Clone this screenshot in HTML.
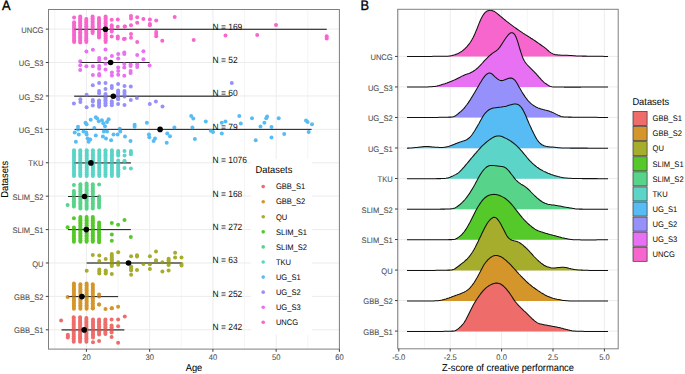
<!DOCTYPE html><html><head><meta charset="utf-8"><style>html,body{margin:0;padding:0;background:#fff;width:685px;height:374px;overflow:hidden}svg{display:block}text{font-family:"Liberation Sans",sans-serif;text-rendering:geometricPrecision}</style></head><body>
<svg width="685" height="374" viewBox="0 0 685 374">
<rect width="685" height="374" fill="#fff"/>
<g stroke="#EBEBEB" fill="none">
<line x1="54.78" y1="9.5" x2="54.78" y2="349.1" stroke-width="0.5"/>
<line x1="118.03" y1="9.5" x2="118.03" y2="349.1" stroke-width="0.5"/>
<line x1="181.28" y1="9.5" x2="181.28" y2="349.1" stroke-width="0.5"/>
<line x1="244.53" y1="9.5" x2="244.53" y2="349.1" stroke-width="0.5"/>
<line x1="307.77" y1="9.5" x2="307.77" y2="349.1" stroke-width="0.5"/>
<line x1="86.40" y1="9.5" x2="86.40" y2="349.1" stroke-width="0.95"/>
<line x1="149.65" y1="9.5" x2="149.65" y2="349.1" stroke-width="0.95"/>
<line x1="212.90" y1="9.5" x2="212.90" y2="349.1" stroke-width="0.95"/>
<line x1="276.15" y1="9.5" x2="276.15" y2="349.1" stroke-width="0.95"/>
<line x1="339.40" y1="9.5" x2="339.40" y2="349.1" stroke-width="0.95"/>
<line x1="48.5" y1="329.80" x2="339.4" y2="329.80" stroke-width="0.95"/>
<line x1="48.5" y1="296.39" x2="339.4" y2="296.39" stroke-width="0.95"/>
<line x1="48.5" y1="262.98" x2="339.4" y2="262.98" stroke-width="0.95"/>
<line x1="48.5" y1="229.57" x2="339.4" y2="229.57" stroke-width="0.95"/>
<line x1="48.5" y1="196.16" x2="339.4" y2="196.16" stroke-width="0.95"/>
<line x1="48.5" y1="162.75" x2="339.4" y2="162.75" stroke-width="0.95"/>
<line x1="48.5" y1="129.34" x2="339.4" y2="129.34" stroke-width="0.95"/>
<line x1="48.5" y1="95.93" x2="339.4" y2="95.93" stroke-width="0.95"/>
<line x1="48.5" y1="62.52" x2="339.4" y2="62.52" stroke-width="0.95"/>
<line x1="48.5" y1="29.11" x2="339.4" y2="29.11" stroke-width="0.95"/>
</g>
<g stroke="#EBEBEB" fill="none">
<line x1="424.50" y1="9.3" x2="424.50" y2="348.8" stroke-width="0.5"/>
<line x1="475.90" y1="9.3" x2="475.90" y2="348.8" stroke-width="0.5"/>
<line x1="527.30" y1="9.3" x2="527.30" y2="348.8" stroke-width="0.5"/>
<line x1="578.70" y1="9.3" x2="578.70" y2="348.8" stroke-width="0.5"/>
<line x1="398.80" y1="9.3" x2="398.80" y2="348.8" stroke-width="0.95"/>
<line x1="450.20" y1="9.3" x2="450.20" y2="348.8" stroke-width="0.95"/>
<line x1="501.60" y1="9.3" x2="501.60" y2="348.8" stroke-width="0.95"/>
<line x1="553.00" y1="9.3" x2="553.00" y2="348.8" stroke-width="0.95"/>
<line x1="604.40" y1="9.3" x2="604.40" y2="348.8" stroke-width="0.95"/>
<line x1="397.7" y1="331.10" x2="618.2" y2="331.10" stroke-width="0.95"/>
<line x1="397.7" y1="300.58" x2="618.2" y2="300.58" stroke-width="0.95"/>
<line x1="397.7" y1="270.06" x2="618.2" y2="270.06" stroke-width="0.95"/>
<line x1="397.7" y1="239.54" x2="618.2" y2="239.54" stroke-width="0.95"/>
<line x1="397.7" y1="209.02" x2="618.2" y2="209.02" stroke-width="0.95"/>
<line x1="397.7" y1="178.50" x2="618.2" y2="178.50" stroke-width="0.95"/>
<line x1="397.7" y1="147.98" x2="618.2" y2="147.98" stroke-width="0.95"/>
<line x1="397.7" y1="117.46" x2="618.2" y2="117.46" stroke-width="0.95"/>
<line x1="397.7" y1="86.94" x2="618.2" y2="86.94" stroke-width="0.95"/>
<line x1="397.7" y1="56.42" x2="618.2" y2="56.42" stroke-width="0.95"/>
</g>
<path d="M407.0,56.4 408.0,56.4 409.0,56.4 410.0,56.4 411.0,56.4 412.0,56.4 413.0,56.4 414.0,56.4 415.0,56.4 416.0,56.4 417.0,56.4 418.0,56.4 419.0,56.4 420.0,56.4 421.0,56.4 422.0,56.4 423.0,56.4 424.0,56.4 425.0,56.4 426.0,56.4 427.0,56.4 428.0,56.4 429.0,56.4 430.0,56.4 431.0,56.4 432.0,56.4 433.0,56.3 434.0,56.3 435.0,56.3 436.0,56.3 437.0,56.3 438.0,56.3 439.0,56.3 440.0,56.3 441.0,56.3 442.0,56.3 443.0,56.3 444.0,56.3 445.0,56.3 446.0,56.3 447.0,56.2 448.0,56.2 449.0,56.1 450.0,56.0 451.0,55.8 452.0,55.6 453.0,55.3 454.0,55.0 455.0,54.7 456.0,54.3 457.0,53.9 458.0,53.5 459.0,53.0 460.0,52.4 461.0,51.8 462.0,51.1 463.0,50.3 464.0,49.5 465.0,48.6 466.0,47.6 467.0,46.6 468.0,45.4 469.0,44.2 470.0,42.8 471.0,41.3 472.0,39.6 473.0,37.8 474.0,35.7 475.0,33.5 476.0,31.1 477.0,28.7 478.0,26.1 479.0,23.6 480.0,21.2 481.0,18.9 482.0,17.0 483.0,15.3 484.0,13.9 485.0,12.7 486.0,11.8 487.0,11.1 488.0,10.7 489.0,10.4 490.0,10.3 491.0,10.3 492.0,10.5 493.0,10.9 494.0,11.3 495.0,11.9 496.0,12.6 497.0,13.4 498.0,14.2 499.0,15.0 500.0,15.8 501.0,16.7 502.0,17.5 503.0,18.3 504.0,19.2 505.0,20.0 506.0,20.8 507.0,21.6 508.0,22.3 509.0,23.1 510.0,23.9 511.0,24.6 512.0,25.4 513.0,26.1 514.0,26.9 515.0,27.6 516.0,28.3 517.0,29.0 518.0,29.7 519.0,30.4 520.0,31.1 521.0,31.8 522.0,32.4 523.0,33.1 524.0,33.7 525.0,34.4 526.0,35.0 527.0,35.6 528.0,36.3 529.0,36.9 530.0,37.5 531.0,38.2 532.0,38.8 533.0,39.5 534.0,40.1 535.0,40.8 536.0,41.5 537.0,42.2 538.0,42.9 539.0,43.6 540.0,44.3 541.0,45.0 542.0,45.7 543.0,46.4 544.0,47.1 545.0,47.9 546.0,48.7 547.0,49.6 548.0,50.5 549.0,51.4 550.0,52.2 551.0,52.9 552.0,53.4 553.0,53.9 554.0,54.2 555.0,54.5 556.0,54.7 557.0,54.8 558.0,54.9 559.0,55.0 560.0,55.1 561.0,55.2 562.0,55.2 563.0,55.2 564.0,55.2 565.0,55.2 566.0,55.2 567.0,55.3 568.0,55.3 569.0,55.4 570.0,55.4 571.0,55.5 572.0,55.6 573.0,55.7 574.0,55.8 575.0,55.8 576.0,55.9 577.0,55.9 578.0,56.0 579.0,56.0 580.0,56.0 581.0,56.0 582.0,56.1 583.0,56.1 584.0,56.1 585.0,56.1 586.0,56.1 587.0,56.2 588.0,56.2 589.0,56.2 590.0,56.2 591.0,56.2 592.0,56.2 593.0,56.2 594.0,56.2 595.0,56.3 596.0,56.3 597.0,56.3 598.0,56.3 599.0,56.3 600.0,56.3 601.0,56.3 602.0,56.3 603.0,56.3 604.0,56.4 605.0,56.4 606.0,56.4 607.0,56.4 608.0,56.4 L608.00,56.40 L407.00,56.40 Z" fill="#F766CC" stroke="none"/>
<path d="M407.0,56.4 408.0,56.4 409.0,56.4 410.0,56.4 411.0,56.4 412.0,56.4 413.0,56.4 414.0,56.4 415.0,56.4 416.0,56.4 417.0,56.4 418.0,56.4 419.0,56.4 420.0,56.4 421.0,56.4 422.0,56.4 423.0,56.4 424.0,56.4 425.0,56.4 426.0,56.4 427.0,56.4 428.0,56.4 429.0,56.4 430.0,56.4 431.0,56.4 432.0,56.4 433.0,56.3 434.0,56.3 435.0,56.3 436.0,56.3 437.0,56.3 438.0,56.3 439.0,56.3 440.0,56.3 441.0,56.3 442.0,56.3 443.0,56.3 444.0,56.3 445.0,56.3 446.0,56.3 447.0,56.2 448.0,56.2 449.0,56.1 450.0,56.0 451.0,55.8 452.0,55.6 453.0,55.3 454.0,55.0 455.0,54.7 456.0,54.3 457.0,53.9 458.0,53.5 459.0,53.0 460.0,52.4 461.0,51.8 462.0,51.1 463.0,50.3 464.0,49.5 465.0,48.6 466.0,47.6 467.0,46.6 468.0,45.4 469.0,44.2 470.0,42.8 471.0,41.3 472.0,39.6 473.0,37.8 474.0,35.7 475.0,33.5 476.0,31.1 477.0,28.7 478.0,26.1 479.0,23.6 480.0,21.2 481.0,18.9 482.0,17.0 483.0,15.3 484.0,13.9 485.0,12.7 486.0,11.8 487.0,11.1 488.0,10.7 489.0,10.4 490.0,10.3 491.0,10.3 492.0,10.5 493.0,10.9 494.0,11.3 495.0,11.9 496.0,12.6 497.0,13.4 498.0,14.2 499.0,15.0 500.0,15.8 501.0,16.7 502.0,17.5 503.0,18.3 504.0,19.2 505.0,20.0 506.0,20.8 507.0,21.6 508.0,22.3 509.0,23.1 510.0,23.9 511.0,24.6 512.0,25.4 513.0,26.1 514.0,26.9 515.0,27.6 516.0,28.3 517.0,29.0 518.0,29.7 519.0,30.4 520.0,31.1 521.0,31.8 522.0,32.4 523.0,33.1 524.0,33.7 525.0,34.4 526.0,35.0 527.0,35.6 528.0,36.3 529.0,36.9 530.0,37.5 531.0,38.2 532.0,38.8 533.0,39.5 534.0,40.1 535.0,40.8 536.0,41.5 537.0,42.2 538.0,42.9 539.0,43.6 540.0,44.3 541.0,45.0 542.0,45.7 543.0,46.4 544.0,47.1 545.0,47.9 546.0,48.7 547.0,49.6 548.0,50.5 549.0,51.4 550.0,52.2 551.0,52.9 552.0,53.4 553.0,53.9 554.0,54.2 555.0,54.5 556.0,54.7 557.0,54.8 558.0,54.9 559.0,55.0 560.0,55.1 561.0,55.2 562.0,55.2 563.0,55.2 564.0,55.2 565.0,55.2 566.0,55.2 567.0,55.3 568.0,55.3 569.0,55.4 570.0,55.4 571.0,55.5 572.0,55.6 573.0,55.7 574.0,55.8 575.0,55.8 576.0,55.9 577.0,55.9 578.0,56.0 579.0,56.0 580.0,56.0 581.0,56.0 582.0,56.1 583.0,56.1 584.0,56.1 585.0,56.1 586.0,56.1 587.0,56.2 588.0,56.2 589.0,56.2 590.0,56.2 591.0,56.2 592.0,56.2 593.0,56.2 594.0,56.2 595.0,56.3 596.0,56.3 597.0,56.3 598.0,56.3 599.0,56.3 600.0,56.3 601.0,56.3 602.0,56.3 603.0,56.3 604.0,56.4 605.0,56.4 606.0,56.4 607.0,56.4 608.0,56.4" fill="none" stroke="#111" stroke-width="1.05" stroke-linejoin="round"/>
<path d="M407.0,87.0 408.0,87.0 409.0,87.0 410.0,87.0 411.0,87.0 412.0,87.0 413.0,87.0 414.0,87.0 415.0,87.0 416.0,87.0 417.0,87.0 418.0,87.0 419.0,87.0 420.0,86.9 421.0,86.9 422.0,86.9 423.0,86.9 424.0,86.9 425.0,86.9 426.0,86.9 427.0,86.9 428.0,86.9 429.0,86.8 430.0,86.8 431.0,86.8 432.0,86.7 433.0,86.6 434.0,86.5 435.0,86.4 436.0,86.2 437.0,86.0 438.0,85.7 439.0,85.5 440.0,85.2 441.0,84.9 442.0,84.6 443.0,84.3 444.0,84.0 445.0,83.7 446.0,83.3 447.0,83.0 448.0,82.6 449.0,82.2 450.0,81.8 451.0,81.4 452.0,81.0 453.0,80.6 454.0,80.1 455.0,79.7 456.0,79.2 457.0,78.7 458.0,78.2 459.0,77.7 460.0,77.2 461.0,76.6 462.0,76.1 463.0,75.7 464.0,75.2 465.0,74.8 466.0,74.4 467.0,74.1 468.0,73.7 469.0,73.4 470.0,73.0 471.0,72.5 472.0,72.0 473.0,71.5 474.0,70.8 475.0,70.1 476.0,69.4 477.0,68.5 478.0,67.7 479.0,66.7 480.0,65.7 481.0,64.6 482.0,63.5 483.0,62.4 484.0,61.2 485.0,60.1 486.0,59.1 487.0,58.1 488.0,57.1 489.0,56.2 490.0,55.3 491.0,54.5 492.0,53.7 493.0,52.9 494.0,52.3 495.0,51.6 496.0,51.0 497.0,50.2 498.0,49.3 499.0,48.2 500.0,46.9 501.0,45.4 502.0,43.9 503.0,42.3 504.0,40.8 505.0,39.3 506.0,37.8 507.0,36.5 508.0,35.2 509.0,34.1 510.0,33.3 511.0,32.8 512.0,32.7 513.0,33.0 514.0,33.7 515.0,35.0 516.0,37.0 517.0,39.6 518.0,42.7 519.0,46.1 520.0,49.5 521.0,52.7 522.0,55.6 523.0,58.2 524.0,60.3 525.0,62.0 526.0,63.3 527.0,64.5 528.0,65.6 529.0,66.6 530.0,67.6 531.0,68.6 532.0,69.6 533.0,70.6 534.0,71.6 535.0,72.6 536.0,73.7 537.0,74.8 538.0,75.9 539.0,77.1 540.0,78.2 541.0,79.4 542.0,80.4 543.0,81.4 544.0,82.3 545.0,83.1 546.0,83.8 547.0,84.5 548.0,85.1 549.0,85.7 550.0,86.2 551.0,86.6 552.0,86.8 553.0,86.9 554.0,87.0 555.0,87.0 556.0,87.0 557.0,87.0 558.0,87.0 559.0,87.0 560.0,87.0 561.0,87.0 562.0,87.0 563.0,87.0 564.0,87.1 565.0,87.1 566.0,87.1 567.0,87.1 568.0,87.1 569.0,87.1 570.0,87.1 571.0,87.1 572.0,87.1 573.0,87.1 574.0,87.1 575.0,87.1 576.0,87.1 577.0,87.1 578.0,87.1 579.0,87.1 580.0,87.1 581.0,87.1 582.0,87.0 583.0,87.0 584.0,87.0 585.0,87.0 586.0,87.0 587.0,87.0 588.0,87.0 589.0,87.0 590.0,87.0 591.0,87.0 592.0,87.0 593.0,87.0 594.0,87.0 595.0,87.0 596.0,87.0 597.0,87.0 598.0,87.0 599.0,87.0 600.0,87.0 601.0,87.0 602.0,87.0 603.0,87.0 604.0,87.0 605.0,87.0 606.0,87.0 607.0,87.0 608.0,87.0 L608.00,87.00 L407.00,87.00 Z" fill="#E870F2" stroke="none"/>
<path d="M407.0,87.0 408.0,87.0 409.0,87.0 410.0,87.0 411.0,87.0 412.0,87.0 413.0,87.0 414.0,87.0 415.0,87.0 416.0,87.0 417.0,87.0 418.0,87.0 419.0,87.0 420.0,86.9 421.0,86.9 422.0,86.9 423.0,86.9 424.0,86.9 425.0,86.9 426.0,86.9 427.0,86.9 428.0,86.9 429.0,86.8 430.0,86.8 431.0,86.8 432.0,86.7 433.0,86.6 434.0,86.5 435.0,86.4 436.0,86.2 437.0,86.0 438.0,85.7 439.0,85.5 440.0,85.2 441.0,84.9 442.0,84.6 443.0,84.3 444.0,84.0 445.0,83.7 446.0,83.3 447.0,83.0 448.0,82.6 449.0,82.2 450.0,81.8 451.0,81.4 452.0,81.0 453.0,80.6 454.0,80.1 455.0,79.7 456.0,79.2 457.0,78.7 458.0,78.2 459.0,77.7 460.0,77.2 461.0,76.6 462.0,76.1 463.0,75.7 464.0,75.2 465.0,74.8 466.0,74.4 467.0,74.1 468.0,73.7 469.0,73.4 470.0,73.0 471.0,72.5 472.0,72.0 473.0,71.5 474.0,70.8 475.0,70.1 476.0,69.4 477.0,68.5 478.0,67.7 479.0,66.7 480.0,65.7 481.0,64.6 482.0,63.5 483.0,62.4 484.0,61.2 485.0,60.1 486.0,59.1 487.0,58.1 488.0,57.1 489.0,56.2 490.0,55.3 491.0,54.5 492.0,53.7 493.0,52.9 494.0,52.3 495.0,51.6 496.0,51.0 497.0,50.2 498.0,49.3 499.0,48.2 500.0,46.9 501.0,45.4 502.0,43.9 503.0,42.3 504.0,40.8 505.0,39.3 506.0,37.8 507.0,36.5 508.0,35.2 509.0,34.1 510.0,33.3 511.0,32.8 512.0,32.7 513.0,33.0 514.0,33.7 515.0,35.0 516.0,37.0 517.0,39.6 518.0,42.7 519.0,46.1 520.0,49.5 521.0,52.7 522.0,55.6 523.0,58.2 524.0,60.3 525.0,62.0 526.0,63.3 527.0,64.5 528.0,65.6 529.0,66.6 530.0,67.6 531.0,68.6 532.0,69.6 533.0,70.6 534.0,71.6 535.0,72.6 536.0,73.7 537.0,74.8 538.0,75.9 539.0,77.1 540.0,78.2 541.0,79.4 542.0,80.4 543.0,81.4 544.0,82.3 545.0,83.1 546.0,83.8 547.0,84.5 548.0,85.1 549.0,85.7 550.0,86.2 551.0,86.6 552.0,86.8 553.0,86.9 554.0,87.0 555.0,87.0 556.0,87.0 557.0,87.0 558.0,87.0 559.0,87.0 560.0,87.0 561.0,87.0 562.0,87.0 563.0,87.0 564.0,87.1 565.0,87.1 566.0,87.1 567.0,87.1 568.0,87.1 569.0,87.1 570.0,87.1 571.0,87.1 572.0,87.1 573.0,87.1 574.0,87.1 575.0,87.1 576.0,87.1 577.0,87.1 578.0,87.1 579.0,87.1 580.0,87.1 581.0,87.1 582.0,87.0 583.0,87.0 584.0,87.0 585.0,87.0 586.0,87.0 587.0,87.0 588.0,87.0 589.0,87.0 590.0,87.0 591.0,87.0 592.0,87.0 593.0,87.0 594.0,87.0 595.0,87.0 596.0,87.0 597.0,87.0 598.0,87.0 599.0,87.0 600.0,87.0 601.0,87.0 602.0,87.0 603.0,87.0 604.0,87.0 605.0,87.0 606.0,87.0 607.0,87.0 608.0,87.0" fill="none" stroke="#111" stroke-width="1.05" stroke-linejoin="round"/>
<path d="M407.0,117.4 408.0,117.4 409.0,117.4 410.0,117.4 411.0,117.4 412.0,117.4 413.0,117.4 414.0,117.4 415.0,117.4 416.0,117.4 417.0,117.4 418.0,117.4 419.0,117.4 420.0,117.4 421.0,117.4 422.0,117.4 423.0,117.4 424.0,117.4 425.0,117.4 426.0,117.4 427.0,117.4 428.0,117.4 429.0,117.4 430.0,117.4 431.0,117.4 432.0,117.4 433.0,117.4 434.0,117.4 435.0,117.4 436.0,117.4 437.0,117.4 438.0,117.4 439.0,117.3 440.0,117.3 441.0,117.3 442.0,117.3 443.0,117.3 444.0,117.3 445.0,117.3 446.0,117.2 447.0,117.2 448.0,117.2 449.0,117.1 450.0,117.1 451.0,117.1 452.0,117.0 453.0,116.8 454.0,116.5 455.0,116.0 456.0,115.4 457.0,114.6 458.0,113.8 459.0,113.0 460.0,112.2 461.0,111.4 462.0,110.4 463.0,109.4 464.0,108.3 465.0,107.1 466.0,105.8 467.0,104.5 468.0,103.1 469.0,101.6 470.0,100.1 471.0,98.5 472.0,96.9 473.0,95.2 474.0,93.6 475.0,91.9 476.0,90.2 477.0,88.5 478.0,86.8 479.0,85.1 480.0,83.3 481.0,81.7 482.0,80.0 483.0,78.5 484.0,77.1 485.0,75.9 486.0,74.9 487.0,74.0 488.0,73.4 489.0,73.1 490.0,73.0 491.0,73.4 492.0,74.0 493.0,74.9 494.0,75.8 495.0,76.8 496.0,77.7 497.0,78.6 498.0,79.3 499.0,79.9 500.0,80.4 501.0,80.6 502.0,80.6 503.0,80.4 504.0,80.1 505.0,79.7 506.0,79.3 507.0,78.9 508.0,78.5 509.0,78.3 510.0,78.1 511.0,78.1 512.0,78.3 513.0,78.7 514.0,79.4 515.0,80.4 516.0,81.7 517.0,83.3 518.0,85.1 519.0,86.9 520.0,88.6 521.0,90.3 522.0,92.0 523.0,93.6 524.0,95.1 525.0,96.6 526.0,98.0 527.0,99.4 528.0,100.6 529.0,101.7 530.0,102.7 531.0,103.6 532.0,104.4 533.0,105.1 534.0,105.8 535.0,106.4 536.0,107.0 537.0,107.4 538.0,107.9 539.0,108.2 540.0,108.6 541.0,108.9 542.0,109.2 543.0,109.5 544.0,109.7 545.0,110.0 546.0,110.2 547.0,110.4 548.0,110.7 549.0,111.0 550.0,111.4 551.0,111.7 552.0,112.2 553.0,112.6 554.0,113.1 555.0,113.6 556.0,114.1 557.0,114.6 558.0,115.1 559.0,115.6 560.0,116.0 561.0,116.4 562.0,116.7 563.0,116.8 564.0,116.9 565.0,117.0 566.0,117.0 567.0,117.0 568.0,117.1 569.0,117.1 570.0,117.1 571.0,117.1 572.0,117.2 573.0,117.2 574.0,117.2 575.0,117.2 576.0,117.2 577.0,117.2 578.0,117.2 579.0,117.2 580.0,117.3 581.0,117.3 582.0,117.3 583.0,117.3 584.0,117.3 585.0,117.3 586.0,117.3 587.0,117.3 588.0,117.3 589.0,117.3 590.0,117.3 591.0,117.3 592.0,117.3 593.0,117.3 594.0,117.3 595.0,117.3 596.0,117.3 597.0,117.3 598.0,117.4 599.0,117.4 600.0,117.4 601.0,117.4 602.0,117.4 603.0,117.4 604.0,117.4 605.0,117.4 606.0,117.4 607.0,117.4 608.0,117.4 L608.00,117.40 L407.00,117.40 Z" fill="#9690FA" stroke="none"/>
<path d="M407.0,117.4 408.0,117.4 409.0,117.4 410.0,117.4 411.0,117.4 412.0,117.4 413.0,117.4 414.0,117.4 415.0,117.4 416.0,117.4 417.0,117.4 418.0,117.4 419.0,117.4 420.0,117.4 421.0,117.4 422.0,117.4 423.0,117.4 424.0,117.4 425.0,117.4 426.0,117.4 427.0,117.4 428.0,117.4 429.0,117.4 430.0,117.4 431.0,117.4 432.0,117.4 433.0,117.4 434.0,117.4 435.0,117.4 436.0,117.4 437.0,117.4 438.0,117.4 439.0,117.3 440.0,117.3 441.0,117.3 442.0,117.3 443.0,117.3 444.0,117.3 445.0,117.3 446.0,117.2 447.0,117.2 448.0,117.2 449.0,117.1 450.0,117.1 451.0,117.1 452.0,117.0 453.0,116.8 454.0,116.5 455.0,116.0 456.0,115.4 457.0,114.6 458.0,113.8 459.0,113.0 460.0,112.2 461.0,111.4 462.0,110.4 463.0,109.4 464.0,108.3 465.0,107.1 466.0,105.8 467.0,104.5 468.0,103.1 469.0,101.6 470.0,100.1 471.0,98.5 472.0,96.9 473.0,95.2 474.0,93.6 475.0,91.9 476.0,90.2 477.0,88.5 478.0,86.8 479.0,85.1 480.0,83.3 481.0,81.7 482.0,80.0 483.0,78.5 484.0,77.1 485.0,75.9 486.0,74.9 487.0,74.0 488.0,73.4 489.0,73.1 490.0,73.0 491.0,73.4 492.0,74.0 493.0,74.9 494.0,75.8 495.0,76.8 496.0,77.7 497.0,78.6 498.0,79.3 499.0,79.9 500.0,80.4 501.0,80.6 502.0,80.6 503.0,80.4 504.0,80.1 505.0,79.7 506.0,79.3 507.0,78.9 508.0,78.5 509.0,78.3 510.0,78.1 511.0,78.1 512.0,78.3 513.0,78.7 514.0,79.4 515.0,80.4 516.0,81.7 517.0,83.3 518.0,85.1 519.0,86.9 520.0,88.6 521.0,90.3 522.0,92.0 523.0,93.6 524.0,95.1 525.0,96.6 526.0,98.0 527.0,99.4 528.0,100.6 529.0,101.7 530.0,102.7 531.0,103.6 532.0,104.4 533.0,105.1 534.0,105.8 535.0,106.4 536.0,107.0 537.0,107.4 538.0,107.9 539.0,108.2 540.0,108.6 541.0,108.9 542.0,109.2 543.0,109.5 544.0,109.7 545.0,110.0 546.0,110.2 547.0,110.4 548.0,110.7 549.0,111.0 550.0,111.4 551.0,111.7 552.0,112.2 553.0,112.6 554.0,113.1 555.0,113.6 556.0,114.1 557.0,114.6 558.0,115.1 559.0,115.6 560.0,116.0 561.0,116.4 562.0,116.7 563.0,116.8 564.0,116.9 565.0,117.0 566.0,117.0 567.0,117.0 568.0,117.1 569.0,117.1 570.0,117.1 571.0,117.1 572.0,117.2 573.0,117.2 574.0,117.2 575.0,117.2 576.0,117.2 577.0,117.2 578.0,117.2 579.0,117.2 580.0,117.3 581.0,117.3 582.0,117.3 583.0,117.3 584.0,117.3 585.0,117.3 586.0,117.3 587.0,117.3 588.0,117.3 589.0,117.3 590.0,117.3 591.0,117.3 592.0,117.3 593.0,117.3 594.0,117.3 595.0,117.3 596.0,117.3 597.0,117.3 598.0,117.4 599.0,117.4 600.0,117.4 601.0,117.4 602.0,117.4 603.0,117.4 604.0,117.4 605.0,117.4 606.0,117.4 607.0,117.4 608.0,117.4" fill="none" stroke="#111" stroke-width="1.05" stroke-linejoin="round"/>
<path d="M407.0,148.2 408.0,148.1 409.0,148.1 410.0,148.0 411.0,148.0 412.0,147.9 413.0,147.8 414.0,147.7 415.0,147.6 416.0,147.5 417.0,147.4 418.0,147.3 419.0,147.2 420.0,147.0 421.0,146.9 422.0,146.8 423.0,146.7 424.0,146.6 425.0,146.5 426.0,146.5 427.0,146.5 428.0,146.5 429.0,146.6 430.0,146.7 431.0,146.8 432.0,146.9 433.0,147.0 434.0,147.1 435.0,147.2 436.0,147.2 437.0,147.3 438.0,147.3 439.0,147.4 440.0,147.4 441.0,147.4 442.0,147.4 443.0,147.4 444.0,147.3 445.0,147.2 446.0,147.0 447.0,146.8 448.0,146.6 449.0,146.3 450.0,145.9 451.0,145.6 452.0,145.2 453.0,144.8 454.0,144.4 455.0,144.0 456.0,143.6 457.0,143.2 458.0,142.8 459.0,142.4 460.0,142.1 461.0,141.8 462.0,141.4 463.0,141.1 464.0,140.8 465.0,140.4 466.0,140.0 467.0,139.5 468.0,138.8 469.0,138.0 470.0,137.1 471.0,136.0 472.0,134.7 473.0,133.3 474.0,131.8 475.0,130.2 476.0,128.5 477.0,126.9 478.0,125.1 479.0,123.4 480.0,121.6 481.0,119.8 482.0,118.0 483.0,116.3 484.0,114.7 485.0,113.4 486.0,112.3 487.0,111.3 488.0,110.5 489.0,109.8 490.0,109.2 491.0,108.8 492.0,108.4 493.0,108.1 494.0,107.9 495.0,107.8 496.0,107.7 497.0,107.6 498.0,107.5 499.0,107.3 500.0,107.2 501.0,107.1 502.0,106.9 503.0,106.7 504.0,106.6 505.0,106.4 506.0,106.2 507.0,105.9 508.0,105.6 509.0,105.3 510.0,105.0 511.0,104.7 512.0,104.4 513.0,104.2 514.0,104.0 515.0,103.9 516.0,104.0 517.0,104.2 518.0,104.5 519.0,105.1 520.0,106.0 521.0,107.0 522.0,108.4 523.0,110.0 524.0,111.9 525.0,114.0 526.0,116.3 527.0,118.7 528.0,121.0 529.0,123.4 530.0,125.6 531.0,127.8 532.0,130.0 533.0,132.0 534.0,134.1 535.0,136.0 536.0,137.9 537.0,139.5 538.0,140.9 539.0,142.1 540.0,143.1 541.0,144.0 542.0,144.7 543.0,145.2 544.0,145.7 545.0,146.0 546.0,146.3 547.0,146.5 548.0,146.7 549.0,146.8 550.0,146.9 551.0,147.0 552.0,147.0 553.0,147.1 554.0,147.2 555.0,147.3 556.0,147.4 557.0,147.5 558.0,147.7 559.0,147.7 560.0,147.8 561.0,147.9 562.0,147.9 563.0,147.9 564.0,148.0 565.0,148.0 566.0,148.0 567.0,148.0 568.0,148.0 569.0,148.0 570.0,148.1 571.0,148.1 572.0,148.1 573.0,148.1 574.0,148.1 575.0,148.1 576.0,148.1 577.0,148.1 578.0,148.1 579.0,148.1 580.0,148.1 581.0,148.1 582.0,148.1 583.0,148.1 584.0,148.1 585.0,148.1 586.0,148.1 587.0,148.1 588.0,148.2 589.0,148.2 590.0,148.2 591.0,148.2 592.0,148.2 593.0,148.2 594.0,148.2 595.0,148.2 596.0,148.2 597.0,148.2 598.0,148.2 599.0,148.2 600.0,148.2 601.0,148.2 602.0,148.2 603.0,148.2 604.0,148.2 605.0,148.2 606.0,148.2 607.0,148.2 608.0,148.2 L608.00,148.20 L407.00,148.20 Z" fill="#58BCF4" stroke="none"/>
<path d="M407.0,148.2 408.0,148.1 409.0,148.1 410.0,148.0 411.0,148.0 412.0,147.9 413.0,147.8 414.0,147.7 415.0,147.6 416.0,147.5 417.0,147.4 418.0,147.3 419.0,147.2 420.0,147.0 421.0,146.9 422.0,146.8 423.0,146.7 424.0,146.6 425.0,146.5 426.0,146.5 427.0,146.5 428.0,146.5 429.0,146.6 430.0,146.7 431.0,146.8 432.0,146.9 433.0,147.0 434.0,147.1 435.0,147.2 436.0,147.2 437.0,147.3 438.0,147.3 439.0,147.4 440.0,147.4 441.0,147.4 442.0,147.4 443.0,147.4 444.0,147.3 445.0,147.2 446.0,147.0 447.0,146.8 448.0,146.6 449.0,146.3 450.0,145.9 451.0,145.6 452.0,145.2 453.0,144.8 454.0,144.4 455.0,144.0 456.0,143.6 457.0,143.2 458.0,142.8 459.0,142.4 460.0,142.1 461.0,141.8 462.0,141.4 463.0,141.1 464.0,140.8 465.0,140.4 466.0,140.0 467.0,139.5 468.0,138.8 469.0,138.0 470.0,137.1 471.0,136.0 472.0,134.7 473.0,133.3 474.0,131.8 475.0,130.2 476.0,128.5 477.0,126.9 478.0,125.1 479.0,123.4 480.0,121.6 481.0,119.8 482.0,118.0 483.0,116.3 484.0,114.7 485.0,113.4 486.0,112.3 487.0,111.3 488.0,110.5 489.0,109.8 490.0,109.2 491.0,108.8 492.0,108.4 493.0,108.1 494.0,107.9 495.0,107.8 496.0,107.7 497.0,107.6 498.0,107.5 499.0,107.3 500.0,107.2 501.0,107.1 502.0,106.9 503.0,106.7 504.0,106.6 505.0,106.4 506.0,106.2 507.0,105.9 508.0,105.6 509.0,105.3 510.0,105.0 511.0,104.7 512.0,104.4 513.0,104.2 514.0,104.0 515.0,103.9 516.0,104.0 517.0,104.2 518.0,104.5 519.0,105.1 520.0,106.0 521.0,107.0 522.0,108.4 523.0,110.0 524.0,111.9 525.0,114.0 526.0,116.3 527.0,118.7 528.0,121.0 529.0,123.4 530.0,125.6 531.0,127.8 532.0,130.0 533.0,132.0 534.0,134.1 535.0,136.0 536.0,137.9 537.0,139.5 538.0,140.9 539.0,142.1 540.0,143.1 541.0,144.0 542.0,144.7 543.0,145.2 544.0,145.7 545.0,146.0 546.0,146.3 547.0,146.5 548.0,146.7 549.0,146.8 550.0,146.9 551.0,147.0 552.0,147.0 553.0,147.1 554.0,147.2 555.0,147.3 556.0,147.4 557.0,147.5 558.0,147.7 559.0,147.7 560.0,147.8 561.0,147.9 562.0,147.9 563.0,147.9 564.0,148.0 565.0,148.0 566.0,148.0 567.0,148.0 568.0,148.0 569.0,148.0 570.0,148.1 571.0,148.1 572.0,148.1 573.0,148.1 574.0,148.1 575.0,148.1 576.0,148.1 577.0,148.1 578.0,148.1 579.0,148.1 580.0,148.1 581.0,148.1 582.0,148.1 583.0,148.1 584.0,148.1 585.0,148.1 586.0,148.1 587.0,148.1 588.0,148.2 589.0,148.2 590.0,148.2 591.0,148.2 592.0,148.2 593.0,148.2 594.0,148.2 595.0,148.2 596.0,148.2 597.0,148.2 598.0,148.2 599.0,148.2 600.0,148.2 601.0,148.2 602.0,148.2 603.0,148.2 604.0,148.2 605.0,148.2 606.0,148.2 607.0,148.2 608.0,148.2" fill="none" stroke="#111" stroke-width="1.05" stroke-linejoin="round"/>
<path d="M407.0,178.7 408.0,178.7 409.0,178.7 410.0,178.7 411.0,178.7 412.0,178.7 413.0,178.7 414.0,178.7 415.0,178.7 416.0,178.7 417.0,178.7 418.0,178.7 419.0,178.7 420.0,178.7 421.0,178.7 422.0,178.7 423.0,178.7 424.0,178.7 425.0,178.7 426.0,178.7 427.0,178.7 428.0,178.7 429.0,178.7 430.0,178.7 431.0,178.7 432.0,178.7 433.0,178.7 434.0,178.7 435.0,178.7 436.0,178.7 437.0,178.6 438.0,178.6 439.0,178.6 440.0,178.6 441.0,178.6 442.0,178.5 443.0,178.5 444.0,178.4 445.0,178.4 446.0,178.3 447.0,178.1 448.0,177.9 449.0,177.6 450.0,177.2 451.0,176.7 452.0,176.3 453.0,175.9 454.0,175.4 455.0,174.9 456.0,174.4 457.0,173.8 458.0,173.1 459.0,172.3 460.0,171.4 461.0,170.4 462.0,169.4 463.0,168.2 464.0,167.1 465.0,165.9 466.0,164.7 467.0,163.5 468.0,162.3 469.0,161.1 470.0,159.9 471.0,158.7 472.0,157.5 473.0,156.3 474.0,155.1 475.0,153.9 476.0,152.8 477.0,151.6 478.0,150.5 479.0,149.4 480.0,148.3 481.0,147.2 482.0,146.2 483.0,145.2 484.0,144.3 485.0,143.4 486.0,142.5 487.0,141.7 488.0,140.9 489.0,140.1 490.0,139.4 491.0,138.7 492.0,138.1 493.0,137.5 494.0,137.0 495.0,136.5 496.0,136.2 497.0,136.0 498.0,135.9 499.0,135.9 500.0,136.1 501.0,136.3 502.0,136.6 503.0,137.0 504.0,137.5 505.0,137.9 506.0,138.4 507.0,138.9 508.0,139.5 509.0,140.0 510.0,140.6 511.0,141.3 512.0,142.0 513.0,142.7 514.0,143.5 515.0,144.3 516.0,145.2 517.0,146.2 518.0,147.2 519.0,148.2 520.0,149.2 521.0,150.3 522.0,151.4 523.0,152.6 524.0,153.8 525.0,155.0 526.0,156.2 527.0,157.5 528.0,158.7 529.0,159.8 530.0,160.9 531.0,161.9 532.0,162.9 533.0,163.8 534.0,164.7 535.0,165.5 536.0,166.3 537.0,167.1 538.0,167.8 539.0,168.5 540.0,169.2 541.0,169.8 542.0,170.3 543.0,170.9 544.0,171.4 545.0,171.8 546.0,172.3 547.0,172.7 548.0,173.2 549.0,173.6 550.0,174.0 551.0,174.4 552.0,174.7 553.0,175.1 554.0,175.4 555.0,175.7 556.0,176.0 557.0,176.3 558.0,176.6 559.0,176.8 560.0,177.1 561.0,177.3 562.0,177.5 563.0,177.7 564.0,177.8 565.0,177.9 566.0,178.0 567.0,178.1 568.0,178.2 569.0,178.2 570.0,178.3 571.0,178.3 572.0,178.4 573.0,178.4 574.0,178.4 575.0,178.4 576.0,178.5 577.0,178.5 578.0,178.5 579.0,178.5 580.0,178.5 581.0,178.5 582.0,178.6 583.0,178.6 584.0,178.6 585.0,178.6 586.0,178.6 587.0,178.6 588.0,178.6 589.0,178.6 590.0,178.6 591.0,178.6 592.0,178.6 593.0,178.6 594.0,178.6 595.0,178.6 596.0,178.6 597.0,178.6 598.0,178.7 599.0,178.7 600.0,178.7 601.0,178.7 602.0,178.7 603.0,178.7 604.0,178.7 605.0,178.7 606.0,178.7 607.0,178.7 608.0,178.7 L608.00,178.70 L407.00,178.70 Z" fill="#5CD4C8" stroke="none"/>
<path d="M407.0,178.7 408.0,178.7 409.0,178.7 410.0,178.7 411.0,178.7 412.0,178.7 413.0,178.7 414.0,178.7 415.0,178.7 416.0,178.7 417.0,178.7 418.0,178.7 419.0,178.7 420.0,178.7 421.0,178.7 422.0,178.7 423.0,178.7 424.0,178.7 425.0,178.7 426.0,178.7 427.0,178.7 428.0,178.7 429.0,178.7 430.0,178.7 431.0,178.7 432.0,178.7 433.0,178.7 434.0,178.7 435.0,178.7 436.0,178.7 437.0,178.6 438.0,178.6 439.0,178.6 440.0,178.6 441.0,178.6 442.0,178.5 443.0,178.5 444.0,178.4 445.0,178.4 446.0,178.3 447.0,178.1 448.0,177.9 449.0,177.6 450.0,177.2 451.0,176.7 452.0,176.3 453.0,175.9 454.0,175.4 455.0,174.9 456.0,174.4 457.0,173.8 458.0,173.1 459.0,172.3 460.0,171.4 461.0,170.4 462.0,169.4 463.0,168.2 464.0,167.1 465.0,165.9 466.0,164.7 467.0,163.5 468.0,162.3 469.0,161.1 470.0,159.9 471.0,158.7 472.0,157.5 473.0,156.3 474.0,155.1 475.0,153.9 476.0,152.8 477.0,151.6 478.0,150.5 479.0,149.4 480.0,148.3 481.0,147.2 482.0,146.2 483.0,145.2 484.0,144.3 485.0,143.4 486.0,142.5 487.0,141.7 488.0,140.9 489.0,140.1 490.0,139.4 491.0,138.7 492.0,138.1 493.0,137.5 494.0,137.0 495.0,136.5 496.0,136.2 497.0,136.0 498.0,135.9 499.0,135.9 500.0,136.1 501.0,136.3 502.0,136.6 503.0,137.0 504.0,137.5 505.0,137.9 506.0,138.4 507.0,138.9 508.0,139.5 509.0,140.0 510.0,140.6 511.0,141.3 512.0,142.0 513.0,142.7 514.0,143.5 515.0,144.3 516.0,145.2 517.0,146.2 518.0,147.2 519.0,148.2 520.0,149.2 521.0,150.3 522.0,151.4 523.0,152.6 524.0,153.8 525.0,155.0 526.0,156.2 527.0,157.5 528.0,158.7 529.0,159.8 530.0,160.9 531.0,161.9 532.0,162.9 533.0,163.8 534.0,164.7 535.0,165.5 536.0,166.3 537.0,167.1 538.0,167.8 539.0,168.5 540.0,169.2 541.0,169.8 542.0,170.3 543.0,170.9 544.0,171.4 545.0,171.8 546.0,172.3 547.0,172.7 548.0,173.2 549.0,173.6 550.0,174.0 551.0,174.4 552.0,174.7 553.0,175.1 554.0,175.4 555.0,175.7 556.0,176.0 557.0,176.3 558.0,176.6 559.0,176.8 560.0,177.1 561.0,177.3 562.0,177.5 563.0,177.7 564.0,177.8 565.0,177.9 566.0,178.0 567.0,178.1 568.0,178.2 569.0,178.2 570.0,178.3 571.0,178.3 572.0,178.4 573.0,178.4 574.0,178.4 575.0,178.4 576.0,178.5 577.0,178.5 578.0,178.5 579.0,178.5 580.0,178.5 581.0,178.5 582.0,178.6 583.0,178.6 584.0,178.6 585.0,178.6 586.0,178.6 587.0,178.6 588.0,178.6 589.0,178.6 590.0,178.6 591.0,178.6 592.0,178.6 593.0,178.6 594.0,178.6 595.0,178.6 596.0,178.6 597.0,178.6 598.0,178.7 599.0,178.7 600.0,178.7 601.0,178.7 602.0,178.7 603.0,178.7 604.0,178.7 605.0,178.7 606.0,178.7 607.0,178.7 608.0,178.7" fill="none" stroke="#111" stroke-width="1.05" stroke-linejoin="round"/>
<path d="M407.0,209.3 408.0,209.3 409.0,209.3 410.0,209.3 411.0,209.3 412.0,209.3 413.0,209.3 414.0,209.3 415.0,209.3 416.0,209.3 417.0,209.3 418.0,209.3 419.0,209.3 420.0,209.3 421.0,209.3 422.0,209.3 423.0,209.3 424.0,209.3 425.0,209.3 426.0,209.3 427.0,209.3 428.0,209.3 429.0,209.3 430.0,209.2 431.0,209.2 432.0,209.2 433.0,209.2 434.0,209.2 435.0,209.2 436.0,209.2 437.0,209.2 438.0,209.2 439.0,209.2 440.0,209.2 441.0,209.1 442.0,209.1 443.0,209.1 444.0,209.1 445.0,209.1 446.0,209.0 447.0,209.0 448.0,209.0 449.0,208.9 450.0,208.9 451.0,208.8 452.0,208.7 453.0,208.6 454.0,208.3 455.0,208.0 456.0,207.4 457.0,206.8 458.0,206.0 459.0,205.3 460.0,204.5 461.0,203.6 462.0,202.7 463.0,201.7 464.0,200.6 465.0,199.5 466.0,198.2 467.0,196.9 468.0,195.5 469.0,194.1 470.0,192.6 471.0,191.0 472.0,189.4 473.0,187.7 474.0,186.0 475.0,184.2 476.0,182.3 477.0,180.5 478.0,178.6 479.0,176.8 480.0,175.1 481.0,173.5 482.0,172.0 483.0,170.7 484.0,169.5 485.0,168.5 486.0,167.5 487.0,166.8 488.0,166.2 489.0,165.8 490.0,165.5 491.0,165.4 492.0,165.4 493.0,165.4 494.0,165.6 495.0,165.7 496.0,165.8 497.0,165.9 498.0,166.0 499.0,166.2 500.0,166.3 501.0,166.4 502.0,166.6 503.0,166.8 504.0,167.1 505.0,167.5 506.0,168.1 507.0,169.0 508.0,170.0 509.0,171.2 510.0,172.4 511.0,173.7 512.0,175.0 513.0,176.3 514.0,177.6 515.0,178.9 516.0,180.0 517.0,181.0 518.0,181.9 519.0,182.7 520.0,183.4 521.0,184.1 522.0,184.7 523.0,185.3 524.0,185.9 525.0,186.6 526.0,187.3 527.0,188.1 528.0,189.0 529.0,189.9 530.0,190.9 531.0,192.0 532.0,193.0 533.0,194.0 534.0,195.0 535.0,196.0 536.0,196.9 537.0,197.8 538.0,198.6 539.0,199.5 540.0,200.3 541.0,201.0 542.0,201.7 543.0,202.3 544.0,202.8 545.0,203.3 546.0,203.6 547.0,203.9 548.0,204.2 549.0,204.4 550.0,204.6 551.0,204.7 552.0,204.9 553.0,205.0 554.0,205.1 555.0,205.2 556.0,205.4 557.0,205.6 558.0,205.7 559.0,205.9 560.0,206.1 561.0,206.3 562.0,206.5 563.0,206.7 564.0,206.9 565.0,207.1 566.0,207.2 567.0,207.4 568.0,207.6 569.0,207.8 570.0,208.0 571.0,208.1 572.0,208.3 573.0,208.5 574.0,208.6 575.0,208.8 576.0,208.9 577.0,208.9 578.0,209.0 579.0,209.1 580.0,209.1 581.0,209.1 582.0,209.1 583.0,209.2 584.0,209.2 585.0,209.2 586.0,209.2 587.0,209.2 588.0,209.2 589.0,209.2 590.0,209.2 591.0,209.3 592.0,209.3 593.0,209.3 594.0,209.3 595.0,209.3 596.0,209.3 597.0,209.3 598.0,209.3 599.0,209.3 600.0,209.3 601.0,209.3 602.0,209.3 603.0,209.3 604.0,209.3 605.0,209.3 606.0,209.3 607.0,209.3 608.0,209.3 L608.00,209.30 L407.00,209.30 Z" fill="#58D48A" stroke="none"/>
<path d="M407.0,209.3 408.0,209.3 409.0,209.3 410.0,209.3 411.0,209.3 412.0,209.3 413.0,209.3 414.0,209.3 415.0,209.3 416.0,209.3 417.0,209.3 418.0,209.3 419.0,209.3 420.0,209.3 421.0,209.3 422.0,209.3 423.0,209.3 424.0,209.3 425.0,209.3 426.0,209.3 427.0,209.3 428.0,209.3 429.0,209.3 430.0,209.2 431.0,209.2 432.0,209.2 433.0,209.2 434.0,209.2 435.0,209.2 436.0,209.2 437.0,209.2 438.0,209.2 439.0,209.2 440.0,209.2 441.0,209.1 442.0,209.1 443.0,209.1 444.0,209.1 445.0,209.1 446.0,209.0 447.0,209.0 448.0,209.0 449.0,208.9 450.0,208.9 451.0,208.8 452.0,208.7 453.0,208.6 454.0,208.3 455.0,208.0 456.0,207.4 457.0,206.8 458.0,206.0 459.0,205.3 460.0,204.5 461.0,203.6 462.0,202.7 463.0,201.7 464.0,200.6 465.0,199.5 466.0,198.2 467.0,196.9 468.0,195.5 469.0,194.1 470.0,192.6 471.0,191.0 472.0,189.4 473.0,187.7 474.0,186.0 475.0,184.2 476.0,182.3 477.0,180.5 478.0,178.6 479.0,176.8 480.0,175.1 481.0,173.5 482.0,172.0 483.0,170.7 484.0,169.5 485.0,168.5 486.0,167.5 487.0,166.8 488.0,166.2 489.0,165.8 490.0,165.5 491.0,165.4 492.0,165.4 493.0,165.4 494.0,165.6 495.0,165.7 496.0,165.8 497.0,165.9 498.0,166.0 499.0,166.2 500.0,166.3 501.0,166.4 502.0,166.6 503.0,166.8 504.0,167.1 505.0,167.5 506.0,168.1 507.0,169.0 508.0,170.0 509.0,171.2 510.0,172.4 511.0,173.7 512.0,175.0 513.0,176.3 514.0,177.6 515.0,178.9 516.0,180.0 517.0,181.0 518.0,181.9 519.0,182.7 520.0,183.4 521.0,184.1 522.0,184.7 523.0,185.3 524.0,185.9 525.0,186.6 526.0,187.3 527.0,188.1 528.0,189.0 529.0,189.9 530.0,190.9 531.0,192.0 532.0,193.0 533.0,194.0 534.0,195.0 535.0,196.0 536.0,196.9 537.0,197.8 538.0,198.6 539.0,199.5 540.0,200.3 541.0,201.0 542.0,201.7 543.0,202.3 544.0,202.8 545.0,203.3 546.0,203.6 547.0,203.9 548.0,204.2 549.0,204.4 550.0,204.6 551.0,204.7 552.0,204.9 553.0,205.0 554.0,205.1 555.0,205.2 556.0,205.4 557.0,205.6 558.0,205.7 559.0,205.9 560.0,206.1 561.0,206.3 562.0,206.5 563.0,206.7 564.0,206.9 565.0,207.1 566.0,207.2 567.0,207.4 568.0,207.6 569.0,207.8 570.0,208.0 571.0,208.1 572.0,208.3 573.0,208.5 574.0,208.6 575.0,208.8 576.0,208.9 577.0,208.9 578.0,209.0 579.0,209.1 580.0,209.1 581.0,209.1 582.0,209.1 583.0,209.2 584.0,209.2 585.0,209.2 586.0,209.2 587.0,209.2 588.0,209.2 589.0,209.2 590.0,209.2 591.0,209.3 592.0,209.3 593.0,209.3 594.0,209.3 595.0,209.3 596.0,209.3 597.0,209.3 598.0,209.3 599.0,209.3 600.0,209.3 601.0,209.3 602.0,209.3 603.0,209.3 604.0,209.3 605.0,209.3 606.0,209.3 607.0,209.3 608.0,209.3" fill="none" stroke="#111" stroke-width="1.05" stroke-linejoin="round"/>
<path d="M407.0,239.8 408.0,239.8 409.0,239.8 410.0,239.8 411.0,239.8 412.0,239.8 413.0,239.8 414.0,239.8 415.0,239.8 416.0,239.8 417.0,239.8 418.0,239.8 419.0,239.8 420.0,239.8 421.0,239.8 422.0,239.8 423.0,239.8 424.0,239.8 425.0,239.8 426.0,239.8 427.0,239.8 428.0,239.8 429.0,239.8 430.0,239.8 431.0,239.8 432.0,239.8 433.0,239.8 434.0,239.8 435.0,239.8 436.0,239.8 437.0,239.8 438.0,239.8 439.0,239.8 440.0,239.8 441.0,239.8 442.0,239.7 443.0,239.7 444.0,239.7 445.0,239.7 446.0,239.7 447.0,239.7 448.0,239.7 449.0,239.6 450.0,239.6 451.0,239.6 452.0,239.6 453.0,239.5 454.0,239.4 455.0,239.2 456.0,238.8 457.0,238.3 458.0,237.6 459.0,236.9 460.0,236.1 461.0,235.3 462.0,234.3 463.0,233.2 464.0,232.0 465.0,230.6 466.0,229.1 467.0,227.5 468.0,225.8 469.0,224.0 470.0,222.2 471.0,220.3 472.0,218.3 473.0,216.3 474.0,214.2 475.0,212.2 476.0,210.3 477.0,208.5 478.0,206.8 479.0,205.2 480.0,203.6 481.0,202.2 482.0,200.9 483.0,199.7 484.0,198.7 485.0,197.7 486.0,197.0 487.0,196.3 488.0,195.8 489.0,195.3 490.0,194.9 491.0,194.7 492.0,194.5 493.0,194.4 494.0,194.3 495.0,194.4 496.0,194.5 497.0,194.7 498.0,195.0 499.0,195.3 500.0,195.7 501.0,196.1 502.0,196.6 503.0,197.1 504.0,197.6 505.0,198.3 506.0,199.0 507.0,199.8 508.0,200.7 509.0,201.6 510.0,202.6 511.0,203.7 512.0,204.8 513.0,206.0 514.0,207.3 515.0,208.6 516.0,209.8 517.0,211.1 518.0,212.4 519.0,213.6 520.0,214.9 521.0,216.1 522.0,217.4 523.0,218.5 524.0,219.7 525.0,220.7 526.0,221.7 527.0,222.7 528.0,223.6 529.0,224.5 530.0,225.4 531.0,226.2 532.0,227.0 533.0,227.7 534.0,228.4 535.0,229.1 536.0,229.7 537.0,230.2 538.0,230.7 539.0,231.1 540.0,231.4 541.0,231.8 542.0,232.1 543.0,232.4 544.0,232.7 545.0,233.1 546.0,233.4 547.0,233.6 548.0,233.9 549.0,234.2 550.0,234.5 551.0,234.7 552.0,235.0 553.0,235.3 554.0,235.5 555.0,235.8 556.0,236.1 557.0,236.4 558.0,236.6 559.0,236.9 560.0,237.1 561.0,237.4 562.0,237.7 563.0,237.9 564.0,238.1 565.0,238.4 566.0,238.6 567.0,238.8 568.0,239.0 569.0,239.2 570.0,239.3 571.0,239.5 572.0,239.6 573.0,239.7 574.0,239.7 575.0,239.7 576.0,239.8 577.0,239.8 578.0,239.8 579.0,239.8 580.0,239.8 581.0,239.9 582.0,239.9 583.0,239.9 584.0,239.9 585.0,239.9 586.0,239.9 587.0,239.9 588.0,239.9 589.0,239.9 590.0,239.9 591.0,239.9 592.0,239.9 593.0,239.9 594.0,239.9 595.0,239.9 596.0,239.9 597.0,239.8 598.0,239.8 599.0,239.8 600.0,239.8 601.0,239.8 602.0,239.8 603.0,239.8 604.0,239.8 605.0,239.8 606.0,239.8 607.0,239.8 608.0,239.8 L608.00,239.80 L407.00,239.80 Z" fill="#55C92A" stroke="none"/>
<path d="M407.0,239.8 408.0,239.8 409.0,239.8 410.0,239.8 411.0,239.8 412.0,239.8 413.0,239.8 414.0,239.8 415.0,239.8 416.0,239.8 417.0,239.8 418.0,239.8 419.0,239.8 420.0,239.8 421.0,239.8 422.0,239.8 423.0,239.8 424.0,239.8 425.0,239.8 426.0,239.8 427.0,239.8 428.0,239.8 429.0,239.8 430.0,239.8 431.0,239.8 432.0,239.8 433.0,239.8 434.0,239.8 435.0,239.8 436.0,239.8 437.0,239.8 438.0,239.8 439.0,239.8 440.0,239.8 441.0,239.8 442.0,239.7 443.0,239.7 444.0,239.7 445.0,239.7 446.0,239.7 447.0,239.7 448.0,239.7 449.0,239.6 450.0,239.6 451.0,239.6 452.0,239.6 453.0,239.5 454.0,239.4 455.0,239.2 456.0,238.8 457.0,238.3 458.0,237.6 459.0,236.9 460.0,236.1 461.0,235.3 462.0,234.3 463.0,233.2 464.0,232.0 465.0,230.6 466.0,229.1 467.0,227.5 468.0,225.8 469.0,224.0 470.0,222.2 471.0,220.3 472.0,218.3 473.0,216.3 474.0,214.2 475.0,212.2 476.0,210.3 477.0,208.5 478.0,206.8 479.0,205.2 480.0,203.6 481.0,202.2 482.0,200.9 483.0,199.7 484.0,198.7 485.0,197.7 486.0,197.0 487.0,196.3 488.0,195.8 489.0,195.3 490.0,194.9 491.0,194.7 492.0,194.5 493.0,194.4 494.0,194.3 495.0,194.4 496.0,194.5 497.0,194.7 498.0,195.0 499.0,195.3 500.0,195.7 501.0,196.1 502.0,196.6 503.0,197.1 504.0,197.6 505.0,198.3 506.0,199.0 507.0,199.8 508.0,200.7 509.0,201.6 510.0,202.6 511.0,203.7 512.0,204.8 513.0,206.0 514.0,207.3 515.0,208.6 516.0,209.8 517.0,211.1 518.0,212.4 519.0,213.6 520.0,214.9 521.0,216.1 522.0,217.4 523.0,218.5 524.0,219.7 525.0,220.7 526.0,221.7 527.0,222.7 528.0,223.6 529.0,224.5 530.0,225.4 531.0,226.2 532.0,227.0 533.0,227.7 534.0,228.4 535.0,229.1 536.0,229.7 537.0,230.2 538.0,230.7 539.0,231.1 540.0,231.4 541.0,231.8 542.0,232.1 543.0,232.4 544.0,232.7 545.0,233.1 546.0,233.4 547.0,233.6 548.0,233.9 549.0,234.2 550.0,234.5 551.0,234.7 552.0,235.0 553.0,235.3 554.0,235.5 555.0,235.8 556.0,236.1 557.0,236.4 558.0,236.6 559.0,236.9 560.0,237.1 561.0,237.4 562.0,237.7 563.0,237.9 564.0,238.1 565.0,238.4 566.0,238.6 567.0,238.8 568.0,239.0 569.0,239.2 570.0,239.3 571.0,239.5 572.0,239.6 573.0,239.7 574.0,239.7 575.0,239.7 576.0,239.8 577.0,239.8 578.0,239.8 579.0,239.8 580.0,239.8 581.0,239.9 582.0,239.9 583.0,239.9 584.0,239.9 585.0,239.9 586.0,239.9 587.0,239.9 588.0,239.9 589.0,239.9 590.0,239.9 591.0,239.9 592.0,239.9 593.0,239.9 594.0,239.9 595.0,239.9 596.0,239.9 597.0,239.8 598.0,239.8 599.0,239.8 600.0,239.8 601.0,239.8 602.0,239.8 603.0,239.8 604.0,239.8 605.0,239.8 606.0,239.8 607.0,239.8 608.0,239.8" fill="none" stroke="#111" stroke-width="1.05" stroke-linejoin="round"/>
<path d="M407.0,270.4 408.0,270.4 409.0,270.4 410.0,270.4 411.0,270.4 412.0,270.4 413.0,270.4 414.0,270.4 415.0,270.4 416.0,270.4 417.0,270.4 418.0,270.4 419.0,270.4 420.0,270.4 421.0,270.4 422.0,270.4 423.0,270.4 424.0,270.4 425.0,270.4 426.0,270.4 427.0,270.4 428.0,270.4 429.0,270.4 430.0,270.4 431.0,270.4 432.0,270.4 433.0,270.4 434.0,270.4 435.0,270.4 436.0,270.3 437.0,270.3 438.0,270.3 439.0,270.3 440.0,270.3 441.0,270.3 442.0,270.3 443.0,270.3 444.0,270.3 445.0,270.2 446.0,270.2 447.0,270.2 448.0,270.1 449.0,270.1 450.0,270.1 451.0,270.0 452.0,269.9 453.0,269.6 454.0,269.3 455.0,268.7 456.0,268.0 457.0,267.3 458.0,266.5 459.0,265.8 460.0,265.0 461.0,264.2 462.0,263.4 463.0,262.6 464.0,261.8 465.0,260.9 466.0,260.0 467.0,259.1 468.0,258.0 469.0,256.9 470.0,255.6 471.0,254.2 472.0,252.8 473.0,251.2 474.0,249.5 475.0,247.7 476.0,245.8 477.0,243.8 478.0,241.7 479.0,239.6 480.0,237.5 481.0,235.4 482.0,233.3 483.0,231.3 484.0,229.3 485.0,227.3 486.0,225.5 487.0,223.8 488.0,222.3 489.0,221.0 490.0,219.9 491.0,218.9 492.0,218.2 493.0,217.6 494.0,217.3 495.0,217.4 496.0,217.9 497.0,218.7 498.0,219.9 499.0,221.3 500.0,222.8 501.0,224.6 502.0,226.4 503.0,228.3 504.0,230.3 505.0,232.3 506.0,234.3 507.0,236.0 508.0,237.4 509.0,238.4 510.0,239.2 511.0,239.7 512.0,240.2 513.0,240.5 514.0,240.8 515.0,241.0 516.0,241.2 517.0,241.5 518.0,241.9 519.0,242.4 520.0,243.0 521.0,243.7 522.0,244.4 523.0,245.2 524.0,246.1 525.0,247.0 526.0,247.9 527.0,248.9 528.0,249.9 529.0,250.9 530.0,252.0 531.0,253.1 532.0,254.2 533.0,255.4 534.0,256.5 535.0,257.5 536.0,258.5 537.0,259.5 538.0,260.5 539.0,261.4 540.0,262.2 541.0,263.1 542.0,263.8 543.0,264.5 544.0,265.2 545.0,265.7 546.0,266.2 547.0,266.7 548.0,267.0 549.0,267.3 550.0,267.6 551.0,267.8 552.0,267.9 553.0,267.9 554.0,268.0 555.0,267.9 556.0,267.8 557.0,267.7 558.0,267.6 559.0,267.5 560.0,267.4 561.0,267.3 562.0,267.2 563.0,267.2 564.0,267.3 565.0,267.4 566.0,267.6 567.0,267.8 568.0,268.0 569.0,268.3 570.0,268.5 571.0,268.8 572.0,269.0 573.0,269.2 574.0,269.4 575.0,269.6 576.0,269.7 577.0,269.8 578.0,269.9 579.0,270.0 580.0,270.0 581.0,270.1 582.0,270.1 583.0,270.2 584.0,270.2 585.0,270.3 586.0,270.3 587.0,270.3 588.0,270.3 589.0,270.4 590.0,270.4 591.0,270.4 592.0,270.4 593.0,270.4 594.0,270.4 595.0,270.5 596.0,270.5 597.0,270.5 598.0,270.5 599.0,270.5 600.0,270.4 601.0,270.4 602.0,270.4 603.0,270.4 604.0,270.4 605.0,270.4 606.0,270.4 607.0,270.4 608.0,270.4 L608.00,270.40 L407.00,270.40 Z" fill="#A6AC2C" stroke="none"/>
<path d="M407.0,270.4 408.0,270.4 409.0,270.4 410.0,270.4 411.0,270.4 412.0,270.4 413.0,270.4 414.0,270.4 415.0,270.4 416.0,270.4 417.0,270.4 418.0,270.4 419.0,270.4 420.0,270.4 421.0,270.4 422.0,270.4 423.0,270.4 424.0,270.4 425.0,270.4 426.0,270.4 427.0,270.4 428.0,270.4 429.0,270.4 430.0,270.4 431.0,270.4 432.0,270.4 433.0,270.4 434.0,270.4 435.0,270.4 436.0,270.3 437.0,270.3 438.0,270.3 439.0,270.3 440.0,270.3 441.0,270.3 442.0,270.3 443.0,270.3 444.0,270.3 445.0,270.2 446.0,270.2 447.0,270.2 448.0,270.1 449.0,270.1 450.0,270.1 451.0,270.0 452.0,269.9 453.0,269.6 454.0,269.3 455.0,268.7 456.0,268.0 457.0,267.3 458.0,266.5 459.0,265.8 460.0,265.0 461.0,264.2 462.0,263.4 463.0,262.6 464.0,261.8 465.0,260.9 466.0,260.0 467.0,259.1 468.0,258.0 469.0,256.9 470.0,255.6 471.0,254.2 472.0,252.8 473.0,251.2 474.0,249.5 475.0,247.7 476.0,245.8 477.0,243.8 478.0,241.7 479.0,239.6 480.0,237.5 481.0,235.4 482.0,233.3 483.0,231.3 484.0,229.3 485.0,227.3 486.0,225.5 487.0,223.8 488.0,222.3 489.0,221.0 490.0,219.9 491.0,218.9 492.0,218.2 493.0,217.6 494.0,217.3 495.0,217.4 496.0,217.9 497.0,218.7 498.0,219.9 499.0,221.3 500.0,222.8 501.0,224.6 502.0,226.4 503.0,228.3 504.0,230.3 505.0,232.3 506.0,234.3 507.0,236.0 508.0,237.4 509.0,238.4 510.0,239.2 511.0,239.7 512.0,240.2 513.0,240.5 514.0,240.8 515.0,241.0 516.0,241.2 517.0,241.5 518.0,241.9 519.0,242.4 520.0,243.0 521.0,243.7 522.0,244.4 523.0,245.2 524.0,246.1 525.0,247.0 526.0,247.9 527.0,248.9 528.0,249.9 529.0,250.9 530.0,252.0 531.0,253.1 532.0,254.2 533.0,255.4 534.0,256.5 535.0,257.5 536.0,258.5 537.0,259.5 538.0,260.5 539.0,261.4 540.0,262.2 541.0,263.1 542.0,263.8 543.0,264.5 544.0,265.2 545.0,265.7 546.0,266.2 547.0,266.7 548.0,267.0 549.0,267.3 550.0,267.6 551.0,267.8 552.0,267.9 553.0,267.9 554.0,268.0 555.0,267.9 556.0,267.8 557.0,267.7 558.0,267.6 559.0,267.5 560.0,267.4 561.0,267.3 562.0,267.2 563.0,267.2 564.0,267.3 565.0,267.4 566.0,267.6 567.0,267.8 568.0,268.0 569.0,268.3 570.0,268.5 571.0,268.8 572.0,269.0 573.0,269.2 574.0,269.4 575.0,269.6 576.0,269.7 577.0,269.8 578.0,269.9 579.0,270.0 580.0,270.0 581.0,270.1 582.0,270.1 583.0,270.2 584.0,270.2 585.0,270.3 586.0,270.3 587.0,270.3 588.0,270.3 589.0,270.4 590.0,270.4 591.0,270.4 592.0,270.4 593.0,270.4 594.0,270.4 595.0,270.5 596.0,270.5 597.0,270.5 598.0,270.5 599.0,270.5 600.0,270.4 601.0,270.4 602.0,270.4 603.0,270.4 604.0,270.4 605.0,270.4 606.0,270.4 607.0,270.4 608.0,270.4" fill="none" stroke="#111" stroke-width="1.05" stroke-linejoin="round"/>
<path d="M407.0,301.0 408.0,301.0 409.0,301.0 410.0,301.0 411.0,301.0 412.0,301.0 413.0,301.0 414.0,301.0 415.0,301.0 416.0,301.0 417.0,301.0 418.0,301.0 419.0,301.0 420.0,301.0 421.0,301.0 422.0,301.0 423.0,301.0 424.0,301.0 425.0,301.0 426.0,301.0 427.0,301.0 428.0,301.0 429.0,301.0 430.0,300.9 431.0,300.9 432.0,300.9 433.0,300.9 434.0,300.9 435.0,300.8 436.0,300.8 437.0,300.8 438.0,300.7 439.0,300.6 440.0,300.5 441.0,300.3 442.0,300.1 443.0,299.8 444.0,299.5 445.0,299.2 446.0,298.9 447.0,298.5 448.0,298.2 449.0,297.9 450.0,297.5 451.0,297.2 452.0,296.8 453.0,296.4 454.0,296.1 455.0,295.7 456.0,295.3 457.0,295.0 458.0,294.6 459.0,294.3 460.0,293.9 461.0,293.5 462.0,293.1 463.0,292.6 464.0,292.2 465.0,291.6 466.0,291.1 467.0,290.4 468.0,289.7 469.0,288.8 470.0,287.8 471.0,286.7 472.0,285.5 473.0,284.1 474.0,282.7 475.0,281.1 476.0,279.4 477.0,277.7 478.0,275.9 479.0,274.1 480.0,272.2 481.0,270.3 482.0,268.4 483.0,266.5 484.0,264.8 485.0,263.3 486.0,262.0 487.0,260.8 488.0,259.7 489.0,258.8 490.0,257.9 491.0,257.2 492.0,256.6 493.0,256.1 494.0,255.8 495.0,255.6 496.0,255.5 497.0,255.6 498.0,255.8 499.0,256.0 500.0,256.4 501.0,256.8 502.0,257.4 503.0,258.0 504.0,258.8 505.0,259.6 506.0,260.4 507.0,261.3 508.0,262.3 509.0,263.2 510.0,264.2 511.0,265.2 512.0,266.3 513.0,267.4 514.0,268.5 515.0,269.6 516.0,270.7 517.0,271.8 518.0,272.9 519.0,274.0 520.0,275.0 521.0,276.1 522.0,277.1 523.0,278.2 524.0,279.2 525.0,280.2 526.0,281.2 527.0,282.1 528.0,283.0 529.0,283.9 530.0,284.7 531.0,285.5 532.0,286.3 533.0,287.1 534.0,287.8 535.0,288.5 536.0,289.2 537.0,289.9 538.0,290.6 539.0,291.2 540.0,291.9 541.0,292.6 542.0,293.2 543.0,293.8 544.0,294.4 545.0,295.0 546.0,295.5 547.0,296.0 548.0,296.4 549.0,296.8 550.0,297.2 551.0,297.6 552.0,297.9 553.0,298.2 554.0,298.4 555.0,298.7 556.0,298.9 557.0,299.2 558.0,299.4 559.0,299.6 560.0,299.8 561.0,300.0 562.0,300.2 563.0,300.4 564.0,300.5 565.0,300.6 566.0,300.7 567.0,300.8 568.0,300.8 569.0,300.9 570.0,300.9 571.0,300.9 572.0,300.9 573.0,301.0 574.0,301.0 575.0,301.0 576.0,301.0 577.0,301.0 578.0,301.0 579.0,301.0 580.0,301.0 581.0,301.0 582.0,301.0 583.0,301.0 584.0,301.0 585.0,301.0 586.0,301.0 587.0,301.0 588.0,301.0 589.0,301.0 590.0,301.0 591.0,301.0 592.0,301.0 593.0,301.0 594.0,301.0 595.0,301.0 596.0,301.0 597.0,301.0 598.0,301.0 599.0,301.0 600.0,301.0 601.0,301.0 602.0,301.0 603.0,301.0 604.0,301.0 605.0,301.0 606.0,301.0 607.0,301.0 608.0,301.0 L608.00,301.00 L407.00,301.00 Z" fill="#D4962A" stroke="none"/>
<path d="M407.0,301.0 408.0,301.0 409.0,301.0 410.0,301.0 411.0,301.0 412.0,301.0 413.0,301.0 414.0,301.0 415.0,301.0 416.0,301.0 417.0,301.0 418.0,301.0 419.0,301.0 420.0,301.0 421.0,301.0 422.0,301.0 423.0,301.0 424.0,301.0 425.0,301.0 426.0,301.0 427.0,301.0 428.0,301.0 429.0,301.0 430.0,300.9 431.0,300.9 432.0,300.9 433.0,300.9 434.0,300.9 435.0,300.8 436.0,300.8 437.0,300.8 438.0,300.7 439.0,300.6 440.0,300.5 441.0,300.3 442.0,300.1 443.0,299.8 444.0,299.5 445.0,299.2 446.0,298.9 447.0,298.5 448.0,298.2 449.0,297.9 450.0,297.5 451.0,297.2 452.0,296.8 453.0,296.4 454.0,296.1 455.0,295.7 456.0,295.3 457.0,295.0 458.0,294.6 459.0,294.3 460.0,293.9 461.0,293.5 462.0,293.1 463.0,292.6 464.0,292.2 465.0,291.6 466.0,291.1 467.0,290.4 468.0,289.7 469.0,288.8 470.0,287.8 471.0,286.7 472.0,285.5 473.0,284.1 474.0,282.7 475.0,281.1 476.0,279.4 477.0,277.7 478.0,275.9 479.0,274.1 480.0,272.2 481.0,270.3 482.0,268.4 483.0,266.5 484.0,264.8 485.0,263.3 486.0,262.0 487.0,260.8 488.0,259.7 489.0,258.8 490.0,257.9 491.0,257.2 492.0,256.6 493.0,256.1 494.0,255.8 495.0,255.6 496.0,255.5 497.0,255.6 498.0,255.8 499.0,256.0 500.0,256.4 501.0,256.8 502.0,257.4 503.0,258.0 504.0,258.8 505.0,259.6 506.0,260.4 507.0,261.3 508.0,262.3 509.0,263.2 510.0,264.2 511.0,265.2 512.0,266.3 513.0,267.4 514.0,268.5 515.0,269.6 516.0,270.7 517.0,271.8 518.0,272.9 519.0,274.0 520.0,275.0 521.0,276.1 522.0,277.1 523.0,278.2 524.0,279.2 525.0,280.2 526.0,281.2 527.0,282.1 528.0,283.0 529.0,283.9 530.0,284.7 531.0,285.5 532.0,286.3 533.0,287.1 534.0,287.8 535.0,288.5 536.0,289.2 537.0,289.9 538.0,290.6 539.0,291.2 540.0,291.9 541.0,292.6 542.0,293.2 543.0,293.8 544.0,294.4 545.0,295.0 546.0,295.5 547.0,296.0 548.0,296.4 549.0,296.8 550.0,297.2 551.0,297.6 552.0,297.9 553.0,298.2 554.0,298.4 555.0,298.7 556.0,298.9 557.0,299.2 558.0,299.4 559.0,299.6 560.0,299.8 561.0,300.0 562.0,300.2 563.0,300.4 564.0,300.5 565.0,300.6 566.0,300.7 567.0,300.8 568.0,300.8 569.0,300.9 570.0,300.9 571.0,300.9 572.0,300.9 573.0,301.0 574.0,301.0 575.0,301.0 576.0,301.0 577.0,301.0 578.0,301.0 579.0,301.0 580.0,301.0 581.0,301.0 582.0,301.0 583.0,301.0 584.0,301.0 585.0,301.0 586.0,301.0 587.0,301.0 588.0,301.0 589.0,301.0 590.0,301.0 591.0,301.0 592.0,301.0 593.0,301.0 594.0,301.0 595.0,301.0 596.0,301.0 597.0,301.0 598.0,301.0 599.0,301.0 600.0,301.0 601.0,301.0 602.0,301.0 603.0,301.0 604.0,301.0 605.0,301.0 606.0,301.0 607.0,301.0 608.0,301.0" fill="none" stroke="#111" stroke-width="1.05" stroke-linejoin="round"/>
<path d="M407.0,331.4 408.0,331.4 409.0,331.4 410.0,331.4 411.0,331.4 412.0,331.4 413.0,331.4 414.0,331.4 415.0,331.4 416.0,331.4 417.0,331.4 418.0,331.4 419.0,331.4 420.0,331.4 421.0,331.4 422.0,331.4 423.0,331.4 424.0,331.4 425.0,331.4 426.0,331.4 427.0,331.4 428.0,331.4 429.0,331.4 430.0,331.4 431.0,331.4 432.0,331.4 433.0,331.4 434.0,331.4 435.0,331.4 436.0,331.4 437.0,331.4 438.0,331.4 439.0,331.4 440.0,331.4 441.0,331.4 442.0,331.4 443.0,331.4 444.0,331.3 445.0,331.3 446.0,331.3 447.0,331.3 448.0,331.3 449.0,331.3 450.0,331.2 451.0,331.2 452.0,331.1 453.0,331.1 454.0,331.0 455.0,330.7 456.0,330.3 457.0,329.6 458.0,328.9 459.0,328.1 460.0,327.2 461.0,326.3 462.0,325.2 463.0,324.0 464.0,322.7 465.0,321.1 466.0,319.4 467.0,317.5 468.0,315.5 469.0,313.5 470.0,311.4 471.0,309.4 472.0,307.5 473.0,305.6 474.0,303.8 475.0,302.1 476.0,300.5 477.0,299.0 478.0,297.5 479.0,296.1 480.0,294.7 481.0,293.4 482.0,292.1 483.0,290.9 484.0,289.8 485.0,288.8 486.0,287.9 487.0,287.1 488.0,286.4 489.0,285.7 490.0,285.1 491.0,284.6 492.0,284.2 493.0,283.8 494.0,283.5 495.0,283.2 496.0,283.1 497.0,283.1 498.0,283.2 499.0,283.5 500.0,283.8 501.0,284.3 502.0,285.0 503.0,285.7 504.0,286.6 505.0,287.6 506.0,288.7 507.0,289.9 508.0,291.1 509.0,292.4 510.0,293.8 511.0,295.3 512.0,296.8 513.0,298.4 514.0,299.9 515.0,301.3 516.0,302.5 517.0,303.7 518.0,304.8 519.0,305.9 520.0,306.9 521.0,307.9 522.0,308.8 523.0,309.8 524.0,310.8 525.0,311.7 526.0,312.7 527.0,313.7 528.0,314.7 529.0,315.7 530.0,316.7 531.0,317.6 532.0,318.6 533.0,319.5 534.0,320.4 535.0,321.2 536.0,321.9 537.0,322.6 538.0,323.1 539.0,323.6 540.0,323.9 541.0,324.1 542.0,324.3 543.0,324.5 544.0,324.7 545.0,324.9 546.0,325.1 547.0,325.3 548.0,325.5 549.0,325.7 550.0,325.8 551.0,326.0 552.0,326.2 553.0,326.4 554.0,326.5 555.0,326.7 556.0,326.9 557.0,327.1 558.0,327.4 559.0,327.6 560.0,327.8 561.0,328.1 562.0,328.3 563.0,328.6 564.0,328.9 565.0,329.1 566.0,329.4 567.0,329.6 568.0,329.9 569.0,330.1 570.0,330.4 571.0,330.6 572.0,330.8 573.0,330.9 574.0,331.0 575.0,331.1 576.0,331.2 577.0,331.2 578.0,331.2 579.0,331.3 580.0,331.3 581.0,331.3 582.0,331.3 583.0,331.3 584.0,331.4 585.0,331.4 586.0,331.4 587.0,331.4 588.0,331.4 589.0,331.4 590.0,331.4 591.0,331.4 592.0,331.4 593.0,331.4 594.0,331.4 595.0,331.4 596.0,331.4 597.0,331.4 598.0,331.4 599.0,331.4 600.0,331.4 601.0,331.4 602.0,331.4 603.0,331.4 604.0,331.4 605.0,331.4 606.0,331.4 607.0,331.4 608.0,331.4 L608.00,331.40 L407.00,331.40 Z" fill="#EE6D6A" stroke="none"/>
<path d="M407.0,331.4 408.0,331.4 409.0,331.4 410.0,331.4 411.0,331.4 412.0,331.4 413.0,331.4 414.0,331.4 415.0,331.4 416.0,331.4 417.0,331.4 418.0,331.4 419.0,331.4 420.0,331.4 421.0,331.4 422.0,331.4 423.0,331.4 424.0,331.4 425.0,331.4 426.0,331.4 427.0,331.4 428.0,331.4 429.0,331.4 430.0,331.4 431.0,331.4 432.0,331.4 433.0,331.4 434.0,331.4 435.0,331.4 436.0,331.4 437.0,331.4 438.0,331.4 439.0,331.4 440.0,331.4 441.0,331.4 442.0,331.4 443.0,331.4 444.0,331.3 445.0,331.3 446.0,331.3 447.0,331.3 448.0,331.3 449.0,331.3 450.0,331.2 451.0,331.2 452.0,331.1 453.0,331.1 454.0,331.0 455.0,330.7 456.0,330.3 457.0,329.6 458.0,328.9 459.0,328.1 460.0,327.2 461.0,326.3 462.0,325.2 463.0,324.0 464.0,322.7 465.0,321.1 466.0,319.4 467.0,317.5 468.0,315.5 469.0,313.5 470.0,311.4 471.0,309.4 472.0,307.5 473.0,305.6 474.0,303.8 475.0,302.1 476.0,300.5 477.0,299.0 478.0,297.5 479.0,296.1 480.0,294.7 481.0,293.4 482.0,292.1 483.0,290.9 484.0,289.8 485.0,288.8 486.0,287.9 487.0,287.1 488.0,286.4 489.0,285.7 490.0,285.1 491.0,284.6 492.0,284.2 493.0,283.8 494.0,283.5 495.0,283.2 496.0,283.1 497.0,283.1 498.0,283.2 499.0,283.5 500.0,283.8 501.0,284.3 502.0,285.0 503.0,285.7 504.0,286.6 505.0,287.6 506.0,288.7 507.0,289.9 508.0,291.1 509.0,292.4 510.0,293.8 511.0,295.3 512.0,296.8 513.0,298.4 514.0,299.9 515.0,301.3 516.0,302.5 517.0,303.7 518.0,304.8 519.0,305.9 520.0,306.9 521.0,307.9 522.0,308.8 523.0,309.8 524.0,310.8 525.0,311.7 526.0,312.7 527.0,313.7 528.0,314.7 529.0,315.7 530.0,316.7 531.0,317.6 532.0,318.6 533.0,319.5 534.0,320.4 535.0,321.2 536.0,321.9 537.0,322.6 538.0,323.1 539.0,323.6 540.0,323.9 541.0,324.1 542.0,324.3 543.0,324.5 544.0,324.7 545.0,324.9 546.0,325.1 547.0,325.3 548.0,325.5 549.0,325.7 550.0,325.8 551.0,326.0 552.0,326.2 553.0,326.4 554.0,326.5 555.0,326.7 556.0,326.9 557.0,327.1 558.0,327.4 559.0,327.6 560.0,327.8 561.0,328.1 562.0,328.3 563.0,328.6 564.0,328.9 565.0,329.1 566.0,329.4 567.0,329.6 568.0,329.9 569.0,330.1 570.0,330.4 571.0,330.6 572.0,330.8 573.0,330.9 574.0,331.0 575.0,331.1 576.0,331.2 577.0,331.2 578.0,331.2 579.0,331.3 580.0,331.3 581.0,331.3 582.0,331.3 583.0,331.3 584.0,331.4 585.0,331.4 586.0,331.4 587.0,331.4 588.0,331.4 589.0,331.4 590.0,331.4 591.0,331.4 592.0,331.4 593.0,331.4 594.0,331.4 595.0,331.4 596.0,331.4 597.0,331.4 598.0,331.4 599.0,331.4 600.0,331.4 601.0,331.4 602.0,331.4 603.0,331.4 604.0,331.4 605.0,331.4 606.0,331.4 607.0,331.4 608.0,331.4" fill="none" stroke="#111" stroke-width="1.05" stroke-linejoin="round"/>
<line x1="61.6" y1="329.9" x2="124.3" y2="329.9" stroke="#222" stroke-width="0.95"/>
<g fill="#EE6D6A" stroke="#EE6D6A">
<circle cx="67.80" cy="334.80" r="2.0" stroke="none"/>
<circle cx="67.80" cy="336.10" r="2.0" stroke="none"/>
<circle cx="67.80" cy="337.40" r="2.0" stroke="none"/>
<circle cx="73.70" cy="317.30" r="2.0" stroke="none"/>
<circle cx="73.70" cy="319.05" r="2.0" stroke="none"/>
<circle cx="73.70" cy="320.80" r="2.0" stroke="none"/>
<circle cx="73.70" cy="322.55" r="2.0" stroke="none"/>
<circle cx="73.70" cy="324.30" r="2.0" stroke="none"/>
<circle cx="73.70" cy="326.05" r="2.0" stroke="none"/>
<circle cx="73.70" cy="327.80" r="2.0" stroke="none"/>
<circle cx="73.70" cy="329.55" r="2.0" stroke="none"/>
<circle cx="73.70" cy="331.30" r="2.0" stroke="none"/>
<circle cx="73.70" cy="333.05" r="2.0" stroke="none"/>
<circle cx="73.70" cy="334.80" r="2.0" stroke="none"/>
<circle cx="73.70" cy="336.55" r="2.0" stroke="none"/>
<circle cx="73.70" cy="338.30" r="2.0" stroke="none"/>
<circle cx="73.70" cy="340.05" r="2.0" stroke="none"/>
<circle cx="73.70" cy="341.80" r="2.0" stroke="none"/>
<circle cx="80.10" cy="317.30" r="2.0" stroke="none"/>
<circle cx="80.10" cy="319.05" r="2.0" stroke="none"/>
<circle cx="80.10" cy="320.80" r="2.0" stroke="none"/>
<circle cx="80.10" cy="322.55" r="2.0" stroke="none"/>
<circle cx="80.10" cy="324.30" r="2.0" stroke="none"/>
<circle cx="80.10" cy="326.05" r="2.0" stroke="none"/>
<circle cx="80.10" cy="327.80" r="2.0" stroke="none"/>
<circle cx="80.10" cy="329.55" r="2.0" stroke="none"/>
<circle cx="80.10" cy="331.30" r="2.0" stroke="none"/>
<circle cx="80.10" cy="333.05" r="2.0" stroke="none"/>
<circle cx="80.10" cy="334.80" r="2.0" stroke="none"/>
<circle cx="80.10" cy="336.55" r="2.0" stroke="none"/>
<circle cx="80.10" cy="338.30" r="2.0" stroke="none"/>
<circle cx="80.10" cy="340.05" r="2.0" stroke="none"/>
<circle cx="80.10" cy="341.80" r="2.0" stroke="none"/>
<circle cx="86.40" cy="318.00" r="2.0" stroke="none"/>
<circle cx="86.40" cy="319.70" r="2.0" stroke="none"/>
<circle cx="86.40" cy="321.40" r="2.0" stroke="none"/>
<circle cx="86.40" cy="323.10" r="2.0" stroke="none"/>
<circle cx="86.40" cy="324.80" r="2.0" stroke="none"/>
<circle cx="86.40" cy="326.50" r="2.0" stroke="none"/>
<circle cx="86.40" cy="328.20" r="2.0" stroke="none"/>
<circle cx="86.40" cy="329.90" r="2.0" stroke="none"/>
<circle cx="86.40" cy="331.60" r="2.0" stroke="none"/>
<circle cx="86.40" cy="333.30" r="2.0" stroke="none"/>
<circle cx="86.40" cy="335.00" r="2.0" stroke="none"/>
<circle cx="86.40" cy="336.70" r="2.0" stroke="none"/>
<circle cx="86.40" cy="338.40" r="2.0" stroke="none"/>
<circle cx="86.40" cy="340.10" r="2.0" stroke="none"/>
<circle cx="86.40" cy="341.80" r="2.0" stroke="none"/>
<circle cx="93.00" cy="319.50" r="2.0" stroke="none"/>
<circle cx="93.00" cy="321.14" r="2.0" stroke="none"/>
<circle cx="93.00" cy="322.77" r="2.0" stroke="none"/>
<circle cx="93.00" cy="324.41" r="2.0" stroke="none"/>
<circle cx="93.00" cy="326.05" r="2.0" stroke="none"/>
<circle cx="93.00" cy="327.68" r="2.0" stroke="none"/>
<circle cx="93.00" cy="329.32" r="2.0" stroke="none"/>
<circle cx="93.00" cy="330.95" r="2.0" stroke="none"/>
<circle cx="93.00" cy="332.59" r="2.0" stroke="none"/>
<circle cx="93.00" cy="334.23" r="2.0" stroke="none"/>
<circle cx="93.00" cy="335.86" r="2.0" stroke="none"/>
<circle cx="93.00" cy="337.50" r="2.0" stroke="none"/>
<circle cx="99.10" cy="319.50" r="2.0" stroke="none"/>
<circle cx="99.10" cy="321.17" r="2.0" stroke="none"/>
<circle cx="99.10" cy="322.83" r="2.0" stroke="none"/>
<circle cx="99.10" cy="324.50" r="2.0" stroke="none"/>
<circle cx="99.10" cy="326.17" r="2.0" stroke="none"/>
<circle cx="99.10" cy="327.83" r="2.0" stroke="none"/>
<circle cx="99.10" cy="329.50" r="2.0" stroke="none"/>
<circle cx="99.10" cy="331.17" r="2.0" stroke="none"/>
<circle cx="99.10" cy="332.83" r="2.0" stroke="none"/>
<circle cx="99.10" cy="334.50" r="2.0" stroke="none"/>
<circle cx="105.40" cy="319.50" r="2.0" stroke="none"/>
<circle cx="105.40" cy="321.11" r="2.0" stroke="none"/>
<circle cx="105.40" cy="322.72" r="2.0" stroke="none"/>
<circle cx="105.40" cy="324.33" r="2.0" stroke="none"/>
<circle cx="105.40" cy="325.94" r="2.0" stroke="none"/>
<circle cx="105.40" cy="327.56" r="2.0" stroke="none"/>
<circle cx="105.40" cy="329.17" r="2.0" stroke="none"/>
<circle cx="105.40" cy="330.78" r="2.0" stroke="none"/>
<circle cx="105.40" cy="332.39" r="2.0" stroke="none"/>
<circle cx="105.40" cy="334.00" r="2.0" stroke="none"/>
<circle cx="111.60" cy="325.50" r="2.0" stroke="none"/>
<circle cx="111.60" cy="327.25" r="2.0" stroke="none"/>
<circle cx="111.60" cy="329.00" r="2.0" stroke="none"/>
<circle cx="111.60" cy="330.75" r="2.0" stroke="none"/>
<circle cx="111.60" cy="332.50" r="2.0" stroke="none"/>
<circle cx="61.1" cy="320.4" r="2.0" stroke="none"/>
<circle cx="93" cy="342.3" r="2.0" stroke="none"/>
<circle cx="99.1" cy="341" r="2.0" stroke="none"/>
<circle cx="111.6" cy="319.4" r="2.0" stroke="none"/>
<circle cx="111.6" cy="337" r="2.0" stroke="none"/>
<circle cx="118.1" cy="319.4" r="2.0" stroke="none"/>
<circle cx="118.1" cy="326.2" r="2.0" stroke="none"/>
<circle cx="118.1" cy="342.7" r="2.0" stroke="none"/>
<circle cx="124.8" cy="316.5" r="2.0" stroke="none"/>
</g>
<line x1="68" y1="296.6" x2="118.1" y2="296.6" stroke="#222" stroke-width="0.95"/>
<g fill="#D4962A" stroke="#D4962A">
<circle cx="73.90" cy="283.60" r="2.0" stroke="none"/>
<circle cx="73.90" cy="285.28" r="2.0" stroke="none"/>
<circle cx="73.90" cy="286.96" r="2.0" stroke="none"/>
<circle cx="73.90" cy="288.64" r="2.0" stroke="none"/>
<circle cx="73.90" cy="290.32" r="2.0" stroke="none"/>
<circle cx="73.90" cy="292.00" r="2.0" stroke="none"/>
<circle cx="73.90" cy="293.68" r="2.0" stroke="none"/>
<circle cx="73.90" cy="295.36" r="2.0" stroke="none"/>
<circle cx="73.90" cy="297.04" r="2.0" stroke="none"/>
<circle cx="73.90" cy="298.72" r="2.0" stroke="none"/>
<circle cx="73.90" cy="300.40" r="2.0" stroke="none"/>
<circle cx="73.90" cy="302.08" r="2.0" stroke="none"/>
<circle cx="73.90" cy="303.76" r="2.0" stroke="none"/>
<circle cx="73.90" cy="305.44" r="2.0" stroke="none"/>
<circle cx="73.90" cy="307.12" r="2.0" stroke="none"/>
<circle cx="73.90" cy="308.80" r="2.0" stroke="none"/>
<circle cx="80.40" cy="284.30" r="2.0" stroke="none"/>
<circle cx="80.40" cy="286.05" r="2.0" stroke="none"/>
<circle cx="80.40" cy="287.80" r="2.0" stroke="none"/>
<circle cx="80.40" cy="289.55" r="2.0" stroke="none"/>
<circle cx="80.40" cy="291.30" r="2.0" stroke="none"/>
<circle cx="80.40" cy="293.05" r="2.0" stroke="none"/>
<circle cx="80.40" cy="294.80" r="2.0" stroke="none"/>
<circle cx="80.40" cy="296.55" r="2.0" stroke="none"/>
<circle cx="80.40" cy="298.30" r="2.0" stroke="none"/>
<circle cx="80.40" cy="300.05" r="2.0" stroke="none"/>
<circle cx="80.40" cy="301.80" r="2.0" stroke="none"/>
<circle cx="80.40" cy="303.55" r="2.0" stroke="none"/>
<circle cx="80.40" cy="305.30" r="2.0" stroke="none"/>
<circle cx="80.40" cy="307.05" r="2.0" stroke="none"/>
<circle cx="80.40" cy="308.80" r="2.0" stroke="none"/>
<circle cx="86.60" cy="283.60" r="2.0" stroke="none"/>
<circle cx="86.60" cy="285.28" r="2.0" stroke="none"/>
<circle cx="86.60" cy="286.96" r="2.0" stroke="none"/>
<circle cx="86.60" cy="288.64" r="2.0" stroke="none"/>
<circle cx="86.60" cy="290.32" r="2.0" stroke="none"/>
<circle cx="86.60" cy="292.00" r="2.0" stroke="none"/>
<circle cx="86.60" cy="293.68" r="2.0" stroke="none"/>
<circle cx="86.60" cy="295.36" r="2.0" stroke="none"/>
<circle cx="86.60" cy="297.04" r="2.0" stroke="none"/>
<circle cx="86.60" cy="298.72" r="2.0" stroke="none"/>
<circle cx="86.60" cy="300.40" r="2.0" stroke="none"/>
<circle cx="86.60" cy="302.08" r="2.0" stroke="none"/>
<circle cx="86.60" cy="303.76" r="2.0" stroke="none"/>
<circle cx="86.60" cy="305.44" r="2.0" stroke="none"/>
<circle cx="86.60" cy="307.12" r="2.0" stroke="none"/>
<circle cx="86.60" cy="308.80" r="2.0" stroke="none"/>
<circle cx="92.80" cy="284.30" r="2.0" stroke="none"/>
<circle cx="92.80" cy="286.03" r="2.0" stroke="none"/>
<circle cx="92.80" cy="287.76" r="2.0" stroke="none"/>
<circle cx="92.80" cy="289.49" r="2.0" stroke="none"/>
<circle cx="92.80" cy="291.21" r="2.0" stroke="none"/>
<circle cx="92.80" cy="292.94" r="2.0" stroke="none"/>
<circle cx="92.80" cy="294.67" r="2.0" stroke="none"/>
<circle cx="92.80" cy="296.40" r="2.0" stroke="none"/>
<circle cx="92.80" cy="298.13" r="2.0" stroke="none"/>
<circle cx="92.80" cy="299.86" r="2.0" stroke="none"/>
<circle cx="92.80" cy="301.59" r="2.0" stroke="none"/>
<circle cx="92.80" cy="303.31" r="2.0" stroke="none"/>
<circle cx="92.80" cy="305.04" r="2.0" stroke="none"/>
<circle cx="92.80" cy="306.77" r="2.0" stroke="none"/>
<circle cx="92.80" cy="308.50" r="2.0" stroke="none"/>
<circle cx="99.10" cy="294.50" r="2.0" stroke="none"/>
<circle cx="99.10" cy="296.40" r="2.0" stroke="none"/>
<circle cx="99.10" cy="304.55" r="2.0" stroke="none"/>
<circle cx="99.10" cy="304.55" r="2.0" stroke="none"/>
<circle cx="111.80" cy="308.20" r="2.0" stroke="none"/>
<circle cx="111.80" cy="308.20" r="2.0" stroke="none"/>
<circle cx="67.6" cy="296.9" r="2.0" stroke="none"/>
<circle cx="92.8" cy="308.3" r="2.0" stroke="none"/>
<circle cx="105.5" cy="308.9" r="2.0" stroke="none"/>
<circle cx="118.1" cy="306.8" r="2.0" stroke="none"/>
</g>
<line x1="86.7" y1="263" x2="181.5" y2="263" stroke="#222" stroke-width="0.95"/>
<g fill="#A6AC2C" stroke="#A6AC2C">
<circle cx="99.30" cy="269.50" r="2.0" stroke="none"/>
<circle cx="99.30" cy="271.50" r="2.0" stroke="none"/>
<circle cx="99.30" cy="273.50" r="2.0" stroke="none"/>
<circle cx="105.70" cy="270.50" r="2.0" stroke="none"/>
<circle cx="105.70" cy="272.00" r="2.0" stroke="none"/>
<circle cx="105.70" cy="273.50" r="2.0" stroke="none"/>
<circle cx="111.80" cy="254.00" r="2.0" stroke="none"/>
<circle cx="111.80" cy="255.71" r="2.0" stroke="none"/>
<circle cx="111.80" cy="257.43" r="2.0" stroke="none"/>
<circle cx="111.80" cy="259.14" r="2.0" stroke="none"/>
<circle cx="111.80" cy="260.86" r="2.0" stroke="none"/>
<circle cx="111.80" cy="262.57" r="2.0" stroke="none"/>
<circle cx="111.80" cy="264.29" r="2.0" stroke="none"/>
<circle cx="111.80" cy="266.00" r="2.0" stroke="none"/>
<circle cx="118.20" cy="262.30" r="2.0" stroke="none"/>
<circle cx="118.20" cy="264.70" r="2.0" stroke="none"/>
<circle cx="131.10" cy="266.50" r="2.0" stroke="none"/>
<circle cx="131.10" cy="268.50" r="2.0" stroke="none"/>
<circle cx="131.10" cy="270.50" r="2.0" stroke="none"/>
<circle cx="137.00" cy="255.20" r="2.0" stroke="none"/>
<circle cx="137.00" cy="256.40" r="2.0" stroke="none"/>
<circle cx="156.00" cy="260.30" r="2.0" stroke="none"/>
<circle cx="156.00" cy="261.00" r="2.0" stroke="none"/>
<circle cx="168.60" cy="258.80" r="2.0" stroke="none"/>
<circle cx="168.60" cy="260.35" r="2.0" stroke="none"/>
<circle cx="168.60" cy="261.90" r="2.0" stroke="none"/>
<circle cx="168.60" cy="263.45" r="2.0" stroke="none"/>
<circle cx="168.60" cy="265.00" r="2.0" stroke="none"/>
<circle cx="181.50" cy="264.00" r="2.0" stroke="none"/>
<circle cx="181.50" cy="265.50" r="2.0" stroke="none"/>
<circle cx="86.7" cy="270.7" r="2.0" stroke="none"/>
<circle cx="92.8" cy="255" r="2.0" stroke="none"/>
<circle cx="99.3" cy="255.4" r="2.0" stroke="none"/>
<circle cx="99.3" cy="261.1" r="2.0" stroke="none"/>
<circle cx="105.7" cy="259.1" r="2.0" stroke="none"/>
<circle cx="111.8" cy="273.9" r="2.0" stroke="none"/>
<circle cx="118.2" cy="252.2" r="2.0" stroke="none"/>
<circle cx="131.1" cy="256.2" r="2.0" stroke="none"/>
<circle cx="131.1" cy="274.7" r="2.0" stroke="none"/>
<circle cx="137" cy="269.9" r="2.0" stroke="none"/>
<circle cx="143.4" cy="264" r="2.0" stroke="none"/>
<circle cx="149.9" cy="256.2" r="2.0" stroke="none"/>
<circle cx="149.9" cy="264.3" r="2.0" stroke="none"/>
<circle cx="149.9" cy="269.1" r="2.0" stroke="none"/>
<circle cx="156" cy="251.4" r="2.0" stroke="none"/>
<circle cx="162.4" cy="262.3" r="2.0" stroke="none"/>
<circle cx="162.4" cy="271.5" r="2.0" stroke="none"/>
<circle cx="168.6" cy="270.4" r="2.0" stroke="none"/>
<circle cx="175.1" cy="252.7" r="2.0" stroke="none"/>
<circle cx="175.1" cy="257.5" r="2.0" stroke="none"/>
<circle cx="181.5" cy="257.5" r="2.0" stroke="none"/>
</g>
<line x1="68" y1="229.6" x2="130.8" y2="229.6" stroke="#222" stroke-width="0.95"/>
<g fill="#55C92A" stroke="#55C92A">
<circle cx="73.90" cy="227.50" r="2.0" stroke="none"/>
<circle cx="73.90" cy="229.29" r="2.0" stroke="none"/>
<circle cx="73.90" cy="231.07" r="2.0" stroke="none"/>
<circle cx="73.90" cy="232.86" r="2.0" stroke="none"/>
<circle cx="73.90" cy="234.65" r="2.0" stroke="none"/>
<circle cx="73.90" cy="236.44" r="2.0" stroke="none"/>
<circle cx="73.90" cy="238.23" r="2.0" stroke="none"/>
<circle cx="73.90" cy="240.01" r="2.0" stroke="none"/>
<circle cx="73.90" cy="241.80" r="2.0" stroke="none"/>
<circle cx="80.40" cy="217.00" r="2.0" stroke="none"/>
<circle cx="80.40" cy="218.65" r="2.0" stroke="none"/>
<circle cx="80.40" cy="220.31" r="2.0" stroke="none"/>
<circle cx="80.40" cy="221.96" r="2.0" stroke="none"/>
<circle cx="80.40" cy="223.61" r="2.0" stroke="none"/>
<circle cx="80.40" cy="225.27" r="2.0" stroke="none"/>
<circle cx="80.40" cy="226.92" r="2.0" stroke="none"/>
<circle cx="80.40" cy="228.57" r="2.0" stroke="none"/>
<circle cx="80.40" cy="230.23" r="2.0" stroke="none"/>
<circle cx="80.40" cy="231.88" r="2.0" stroke="none"/>
<circle cx="80.40" cy="233.53" r="2.0" stroke="none"/>
<circle cx="80.40" cy="235.19" r="2.0" stroke="none"/>
<circle cx="80.40" cy="236.84" r="2.0" stroke="none"/>
<circle cx="80.40" cy="238.49" r="2.0" stroke="none"/>
<circle cx="80.40" cy="240.15" r="2.0" stroke="none"/>
<circle cx="80.40" cy="241.80" r="2.0" stroke="none"/>
<circle cx="86.60" cy="217.00" r="2.0" stroke="none"/>
<circle cx="86.60" cy="218.65" r="2.0" stroke="none"/>
<circle cx="86.60" cy="220.31" r="2.0" stroke="none"/>
<circle cx="86.60" cy="221.96" r="2.0" stroke="none"/>
<circle cx="86.60" cy="223.61" r="2.0" stroke="none"/>
<circle cx="86.60" cy="225.27" r="2.0" stroke="none"/>
<circle cx="86.60" cy="226.92" r="2.0" stroke="none"/>
<circle cx="86.60" cy="228.57" r="2.0" stroke="none"/>
<circle cx="86.60" cy="230.23" r="2.0" stroke="none"/>
<circle cx="86.60" cy="231.88" r="2.0" stroke="none"/>
<circle cx="86.60" cy="233.53" r="2.0" stroke="none"/>
<circle cx="86.60" cy="235.19" r="2.0" stroke="none"/>
<circle cx="86.60" cy="236.84" r="2.0" stroke="none"/>
<circle cx="86.60" cy="238.49" r="2.0" stroke="none"/>
<circle cx="86.60" cy="240.15" r="2.0" stroke="none"/>
<circle cx="86.60" cy="241.80" r="2.0" stroke="none"/>
<circle cx="92.80" cy="217.00" r="2.0" stroke="none"/>
<circle cx="92.80" cy="218.65" r="2.0" stroke="none"/>
<circle cx="92.80" cy="220.31" r="2.0" stroke="none"/>
<circle cx="92.80" cy="221.96" r="2.0" stroke="none"/>
<circle cx="92.80" cy="223.61" r="2.0" stroke="none"/>
<circle cx="92.80" cy="225.27" r="2.0" stroke="none"/>
<circle cx="92.80" cy="226.92" r="2.0" stroke="none"/>
<circle cx="92.80" cy="228.57" r="2.0" stroke="none"/>
<circle cx="92.80" cy="230.23" r="2.0" stroke="none"/>
<circle cx="92.80" cy="231.88" r="2.0" stroke="none"/>
<circle cx="92.80" cy="233.53" r="2.0" stroke="none"/>
<circle cx="92.80" cy="235.19" r="2.0" stroke="none"/>
<circle cx="92.80" cy="236.84" r="2.0" stroke="none"/>
<circle cx="92.80" cy="238.49" r="2.0" stroke="none"/>
<circle cx="92.80" cy="240.15" r="2.0" stroke="none"/>
<circle cx="92.80" cy="241.80" r="2.0" stroke="none"/>
<circle cx="99.10" cy="222.40" r="2.0" stroke="none"/>
<circle cx="99.10" cy="224.05" r="2.0" stroke="none"/>
<circle cx="99.10" cy="225.70" r="2.0" stroke="none"/>
<circle cx="99.10" cy="227.35" r="2.0" stroke="none"/>
<circle cx="99.10" cy="229.00" r="2.0" stroke="none"/>
<circle cx="99.10" cy="230.65" r="2.0" stroke="none"/>
<circle cx="99.10" cy="232.30" r="2.0" stroke="none"/>
<circle cx="99.10" cy="233.95" r="2.0" stroke="none"/>
<circle cx="99.10" cy="235.60" r="2.0" stroke="none"/>
<circle cx="99.10" cy="237.25" r="2.0" stroke="none"/>
<circle cx="99.10" cy="238.90" r="2.0" stroke="none"/>
<circle cx="99.10" cy="240.55" r="2.0" stroke="none"/>
<circle cx="99.10" cy="242.20" r="2.0" stroke="none"/>
<circle cx="67.6" cy="227.3" r="2.0" stroke="none"/>
<circle cx="73.9" cy="218.2" r="2.0" stroke="none"/>
<circle cx="111.8" cy="223" r="2.0" stroke="none"/>
<circle cx="111.8" cy="234.6" r="2.0" stroke="none"/>
<circle cx="111.8" cy="240.8" r="2.0" stroke="none"/>
<circle cx="118.1" cy="224.8" r="2.0" stroke="none"/>
<circle cx="124.5" cy="220" r="2.0" stroke="none"/>
<circle cx="130.8" cy="236.9" r="2.0" stroke="none"/>
</g>
<line x1="68" y1="196.5" x2="99.1" y2="196.5" stroke="#222" stroke-width="0.95"/>
<g fill="#58D48A" stroke="#58D48A">
<circle cx="73.90" cy="190.90" r="2.0" stroke="none"/>
<circle cx="73.90" cy="192.63" r="2.0" stroke="none"/>
<circle cx="73.90" cy="194.37" r="2.0" stroke="none"/>
<circle cx="73.90" cy="196.10" r="2.0" stroke="none"/>
<circle cx="73.90" cy="197.83" r="2.0" stroke="none"/>
<circle cx="73.90" cy="199.57" r="2.0" stroke="none"/>
<circle cx="73.90" cy="201.30" r="2.0" stroke="none"/>
<circle cx="73.90" cy="203.03" r="2.0" stroke="none"/>
<circle cx="73.90" cy="204.77" r="2.0" stroke="none"/>
<circle cx="73.90" cy="206.50" r="2.0" stroke="none"/>
<circle cx="80.40" cy="184.30" r="2.0" stroke="none"/>
<circle cx="80.40" cy="186.03" r="2.0" stroke="none"/>
<circle cx="80.40" cy="187.76" r="2.0" stroke="none"/>
<circle cx="80.40" cy="189.49" r="2.0" stroke="none"/>
<circle cx="80.40" cy="191.21" r="2.0" stroke="none"/>
<circle cx="80.40" cy="192.94" r="2.0" stroke="none"/>
<circle cx="80.40" cy="194.67" r="2.0" stroke="none"/>
<circle cx="80.40" cy="196.40" r="2.0" stroke="none"/>
<circle cx="80.40" cy="198.13" r="2.0" stroke="none"/>
<circle cx="80.40" cy="199.86" r="2.0" stroke="none"/>
<circle cx="80.40" cy="201.59" r="2.0" stroke="none"/>
<circle cx="80.40" cy="203.31" r="2.0" stroke="none"/>
<circle cx="80.40" cy="205.04" r="2.0" stroke="none"/>
<circle cx="80.40" cy="206.77" r="2.0" stroke="none"/>
<circle cx="80.40" cy="208.50" r="2.0" stroke="none"/>
<circle cx="86.60" cy="183.60" r="2.0" stroke="none"/>
<circle cx="86.60" cy="185.28" r="2.0" stroke="none"/>
<circle cx="86.60" cy="186.96" r="2.0" stroke="none"/>
<circle cx="86.60" cy="188.64" r="2.0" stroke="none"/>
<circle cx="86.60" cy="190.32" r="2.0" stroke="none"/>
<circle cx="86.60" cy="192.00" r="2.0" stroke="none"/>
<circle cx="86.60" cy="193.68" r="2.0" stroke="none"/>
<circle cx="86.60" cy="195.36" r="2.0" stroke="none"/>
<circle cx="86.60" cy="197.04" r="2.0" stroke="none"/>
<circle cx="86.60" cy="198.72" r="2.0" stroke="none"/>
<circle cx="86.60" cy="200.40" r="2.0" stroke="none"/>
<circle cx="86.60" cy="202.08" r="2.0" stroke="none"/>
<circle cx="86.60" cy="203.76" r="2.0" stroke="none"/>
<circle cx="86.60" cy="205.44" r="2.0" stroke="none"/>
<circle cx="86.60" cy="207.12" r="2.0" stroke="none"/>
<circle cx="86.60" cy="208.80" r="2.0" stroke="none"/>
<circle cx="92.80" cy="184.30" r="2.0" stroke="none"/>
<circle cx="92.80" cy="186.03" r="2.0" stroke="none"/>
<circle cx="92.80" cy="187.76" r="2.0" stroke="none"/>
<circle cx="92.80" cy="189.49" r="2.0" stroke="none"/>
<circle cx="92.80" cy="191.21" r="2.0" stroke="none"/>
<circle cx="92.80" cy="192.94" r="2.0" stroke="none"/>
<circle cx="92.80" cy="194.67" r="2.0" stroke="none"/>
<circle cx="92.80" cy="196.40" r="2.0" stroke="none"/>
<circle cx="92.80" cy="198.13" r="2.0" stroke="none"/>
<circle cx="92.80" cy="199.86" r="2.0" stroke="none"/>
<circle cx="92.80" cy="201.59" r="2.0" stroke="none"/>
<circle cx="92.80" cy="203.31" r="2.0" stroke="none"/>
<circle cx="92.80" cy="205.04" r="2.0" stroke="none"/>
<circle cx="92.80" cy="206.77" r="2.0" stroke="none"/>
<circle cx="92.80" cy="208.50" r="2.0" stroke="none"/>
<circle cx="99.10" cy="196.50" r="2.0" stroke="none"/>
<circle cx="99.10" cy="198.33" r="2.0" stroke="none"/>
<circle cx="99.10" cy="200.17" r="2.0" stroke="none"/>
<circle cx="99.10" cy="202.00" r="2.0" stroke="none"/>
<circle cx="99.10" cy="203.83" r="2.0" stroke="none"/>
<circle cx="99.10" cy="205.67" r="2.0" stroke="none"/>
<circle cx="99.10" cy="207.50" r="2.0" stroke="none"/>
<circle cx="67.6" cy="204.9" r="2.0" stroke="none"/>
<circle cx="73.9" cy="184.9" r="2.0" stroke="none"/>
<circle cx="99.1" cy="184.5" r="2.0" stroke="none"/>
</g>
<line x1="74" y1="162.9" x2="130.9" y2="162.9" stroke="#222" stroke-width="0.95"/>
<g fill="#5CD4C8" stroke="#5CD4C8">
<circle cx="74.00" cy="150.20" r="2.0" stroke="none"/>
<circle cx="74.00" cy="151.92" r="2.0" stroke="none"/>
<circle cx="74.00" cy="153.64" r="2.0" stroke="none"/>
<circle cx="74.00" cy="155.36" r="2.0" stroke="none"/>
<circle cx="74.00" cy="157.08" r="2.0" stroke="none"/>
<circle cx="74.00" cy="158.80" r="2.0" stroke="none"/>
<circle cx="74.00" cy="160.52" r="2.0" stroke="none"/>
<circle cx="74.00" cy="162.24" r="2.0" stroke="none"/>
<circle cx="74.00" cy="163.96" r="2.0" stroke="none"/>
<circle cx="74.00" cy="165.68" r="2.0" stroke="none"/>
<circle cx="74.00" cy="167.40" r="2.0" stroke="none"/>
<circle cx="74.00" cy="169.12" r="2.0" stroke="none"/>
<circle cx="74.00" cy="170.84" r="2.0" stroke="none"/>
<circle cx="74.00" cy="172.56" r="2.0" stroke="none"/>
<circle cx="74.00" cy="174.28" r="2.0" stroke="none"/>
<circle cx="74.00" cy="176.00" r="2.0" stroke="none"/>
<circle cx="80.30" cy="150.20" r="2.0" stroke="none"/>
<circle cx="80.30" cy="151.92" r="2.0" stroke="none"/>
<circle cx="80.30" cy="153.64" r="2.0" stroke="none"/>
<circle cx="80.30" cy="155.36" r="2.0" stroke="none"/>
<circle cx="80.30" cy="157.08" r="2.0" stroke="none"/>
<circle cx="80.30" cy="158.80" r="2.0" stroke="none"/>
<circle cx="80.30" cy="160.52" r="2.0" stroke="none"/>
<circle cx="80.30" cy="162.24" r="2.0" stroke="none"/>
<circle cx="80.30" cy="163.96" r="2.0" stroke="none"/>
<circle cx="80.30" cy="165.68" r="2.0" stroke="none"/>
<circle cx="80.30" cy="167.40" r="2.0" stroke="none"/>
<circle cx="80.30" cy="169.12" r="2.0" stroke="none"/>
<circle cx="80.30" cy="170.84" r="2.0" stroke="none"/>
<circle cx="80.30" cy="172.56" r="2.0" stroke="none"/>
<circle cx="80.30" cy="174.28" r="2.0" stroke="none"/>
<circle cx="80.30" cy="176.00" r="2.0" stroke="none"/>
<circle cx="86.70" cy="150.20" r="2.0" stroke="none"/>
<circle cx="86.70" cy="151.92" r="2.0" stroke="none"/>
<circle cx="86.70" cy="153.64" r="2.0" stroke="none"/>
<circle cx="86.70" cy="155.36" r="2.0" stroke="none"/>
<circle cx="86.70" cy="157.08" r="2.0" stroke="none"/>
<circle cx="86.70" cy="158.80" r="2.0" stroke="none"/>
<circle cx="86.70" cy="160.52" r="2.0" stroke="none"/>
<circle cx="86.70" cy="162.24" r="2.0" stroke="none"/>
<circle cx="86.70" cy="163.96" r="2.0" stroke="none"/>
<circle cx="86.70" cy="165.68" r="2.0" stroke="none"/>
<circle cx="86.70" cy="167.40" r="2.0" stroke="none"/>
<circle cx="86.70" cy="169.12" r="2.0" stroke="none"/>
<circle cx="86.70" cy="170.84" r="2.0" stroke="none"/>
<circle cx="86.70" cy="172.56" r="2.0" stroke="none"/>
<circle cx="86.70" cy="174.28" r="2.0" stroke="none"/>
<circle cx="86.70" cy="176.00" r="2.0" stroke="none"/>
<circle cx="92.90" cy="150.20" r="2.0" stroke="none"/>
<circle cx="92.90" cy="151.92" r="2.0" stroke="none"/>
<circle cx="92.90" cy="153.64" r="2.0" stroke="none"/>
<circle cx="92.90" cy="155.36" r="2.0" stroke="none"/>
<circle cx="92.90" cy="157.08" r="2.0" stroke="none"/>
<circle cx="92.90" cy="158.80" r="2.0" stroke="none"/>
<circle cx="92.90" cy="160.52" r="2.0" stroke="none"/>
<circle cx="92.90" cy="162.24" r="2.0" stroke="none"/>
<circle cx="92.90" cy="163.96" r="2.0" stroke="none"/>
<circle cx="92.90" cy="165.68" r="2.0" stroke="none"/>
<circle cx="92.90" cy="167.40" r="2.0" stroke="none"/>
<circle cx="92.90" cy="169.12" r="2.0" stroke="none"/>
<circle cx="92.90" cy="170.84" r="2.0" stroke="none"/>
<circle cx="92.90" cy="172.56" r="2.0" stroke="none"/>
<circle cx="92.90" cy="174.28" r="2.0" stroke="none"/>
<circle cx="92.90" cy="176.00" r="2.0" stroke="none"/>
<circle cx="99.30" cy="150.20" r="2.0" stroke="none"/>
<circle cx="99.30" cy="151.92" r="2.0" stroke="none"/>
<circle cx="99.30" cy="153.64" r="2.0" stroke="none"/>
<circle cx="99.30" cy="155.36" r="2.0" stroke="none"/>
<circle cx="99.30" cy="157.08" r="2.0" stroke="none"/>
<circle cx="99.30" cy="158.80" r="2.0" stroke="none"/>
<circle cx="99.30" cy="160.52" r="2.0" stroke="none"/>
<circle cx="99.30" cy="162.24" r="2.0" stroke="none"/>
<circle cx="99.30" cy="163.96" r="2.0" stroke="none"/>
<circle cx="99.30" cy="165.68" r="2.0" stroke="none"/>
<circle cx="99.30" cy="167.40" r="2.0" stroke="none"/>
<circle cx="99.30" cy="169.12" r="2.0" stroke="none"/>
<circle cx="99.30" cy="170.84" r="2.0" stroke="none"/>
<circle cx="99.30" cy="172.56" r="2.0" stroke="none"/>
<circle cx="99.30" cy="174.28" r="2.0" stroke="none"/>
<circle cx="99.30" cy="176.00" r="2.0" stroke="none"/>
<circle cx="105.50" cy="150.20" r="2.0" stroke="none"/>
<circle cx="105.50" cy="151.92" r="2.0" stroke="none"/>
<circle cx="105.50" cy="153.64" r="2.0" stroke="none"/>
<circle cx="105.50" cy="155.36" r="2.0" stroke="none"/>
<circle cx="105.50" cy="157.08" r="2.0" stroke="none"/>
<circle cx="105.50" cy="158.80" r="2.0" stroke="none"/>
<circle cx="105.50" cy="160.52" r="2.0" stroke="none"/>
<circle cx="105.50" cy="162.24" r="2.0" stroke="none"/>
<circle cx="105.50" cy="163.96" r="2.0" stroke="none"/>
<circle cx="105.50" cy="165.68" r="2.0" stroke="none"/>
<circle cx="105.50" cy="167.40" r="2.0" stroke="none"/>
<circle cx="105.50" cy="169.12" r="2.0" stroke="none"/>
<circle cx="105.50" cy="170.84" r="2.0" stroke="none"/>
<circle cx="105.50" cy="172.56" r="2.0" stroke="none"/>
<circle cx="105.50" cy="174.28" r="2.0" stroke="none"/>
<circle cx="105.50" cy="176.00" r="2.0" stroke="none"/>
<circle cx="111.90" cy="150.20" r="2.0" stroke="none"/>
<circle cx="111.90" cy="151.92" r="2.0" stroke="none"/>
<circle cx="111.90" cy="153.64" r="2.0" stroke="none"/>
<circle cx="111.90" cy="155.36" r="2.0" stroke="none"/>
<circle cx="111.90" cy="157.08" r="2.0" stroke="none"/>
<circle cx="111.90" cy="158.80" r="2.0" stroke="none"/>
<circle cx="111.90" cy="160.52" r="2.0" stroke="none"/>
<circle cx="111.90" cy="162.24" r="2.0" stroke="none"/>
<circle cx="111.90" cy="163.96" r="2.0" stroke="none"/>
<circle cx="111.90" cy="165.68" r="2.0" stroke="none"/>
<circle cx="111.90" cy="167.40" r="2.0" stroke="none"/>
<circle cx="111.90" cy="169.12" r="2.0" stroke="none"/>
<circle cx="111.90" cy="170.84" r="2.0" stroke="none"/>
<circle cx="111.90" cy="172.56" r="2.0" stroke="none"/>
<circle cx="111.90" cy="174.28" r="2.0" stroke="none"/>
<circle cx="111.90" cy="176.00" r="2.0" stroke="none"/>
<circle cx="118.20" cy="151.00" r="2.0" stroke="none"/>
<circle cx="118.20" cy="152.47" r="2.0" stroke="none"/>
<circle cx="118.20" cy="153.93" r="2.0" stroke="none"/>
<circle cx="118.20" cy="155.40" r="2.0" stroke="none"/>
<circle cx="118.20" cy="160.60" r="2.0" stroke="none"/>
<circle cx="118.20" cy="162.31" r="2.0" stroke="none"/>
<circle cx="118.20" cy="164.02" r="2.0" stroke="none"/>
<circle cx="118.20" cy="165.73" r="2.0" stroke="none"/>
<circle cx="118.20" cy="167.44" r="2.0" stroke="none"/>
<circle cx="118.20" cy="169.16" r="2.0" stroke="none"/>
<circle cx="118.20" cy="170.87" r="2.0" stroke="none"/>
<circle cx="118.20" cy="172.58" r="2.0" stroke="none"/>
<circle cx="118.20" cy="174.29" r="2.0" stroke="none"/>
<circle cx="118.20" cy="176.00" r="2.0" stroke="none"/>
<circle cx="124.50" cy="161.00" r="2.0" stroke="none"/>
<circle cx="124.50" cy="161.00" r="2.0" stroke="none"/>
<circle cx="130.90" cy="151.00" r="2.0" stroke="none"/>
<circle cx="130.90" cy="152.60" r="2.0" stroke="none"/>
<circle cx="130.90" cy="154.20" r="2.0" stroke="none"/>
<circle cx="124.5" cy="151.1" r="2.0" stroke="none"/>
<circle cx="124.5" cy="155.4" r="2.0" stroke="none"/>
<circle cx="124.5" cy="167.9" r="2.0" stroke="none"/>
<circle cx="130.9" cy="168.6" r="2.0" stroke="none"/>
</g>
<line x1="74.7" y1="129.4" x2="311.5" y2="129.4" stroke="#222" stroke-width="0.95"/>
<g fill="#58BCF4" stroke="#58BCF4">
<circle cx="74.7" cy="132.5" r="2.0" stroke="none"/>
<circle cx="75.9" cy="141.7" r="2.0" stroke="none"/>
<circle cx="78" cy="126.8" r="2.0" stroke="none"/>
<circle cx="78" cy="129.4" r="2.0" stroke="none"/>
<circle cx="78.8" cy="134.5" r="2.0" stroke="none"/>
<circle cx="83.5" cy="131.5" r="2.0" stroke="none"/>
<circle cx="85.5" cy="122.7" r="2.0" stroke="none"/>
<circle cx="86.6" cy="124.3" r="2.0" stroke="none"/>
<circle cx="86.2" cy="132.5" r="2.0" stroke="none"/>
<circle cx="86.6" cy="134.5" r="2.0" stroke="none"/>
<circle cx="87.6" cy="138.6" r="2.0" stroke="none"/>
<circle cx="88.6" cy="141.7" r="2.0" stroke="none"/>
<circle cx="90.2" cy="139.6" r="2.0" stroke="none"/>
<circle cx="90.7" cy="119.8" r="2.0" stroke="none"/>
<circle cx="94.3" cy="128" r="2.0" stroke="none"/>
<circle cx="95.8" cy="135.5" r="2.0" stroke="none"/>
<circle cx="95.8" cy="117.2" r="2.0" stroke="none"/>
<circle cx="97.2" cy="118.6" r="2.0" stroke="none"/>
<circle cx="98.8" cy="121.2" r="2.0" stroke="none"/>
<circle cx="101.9" cy="120.2" r="2.0" stroke="none"/>
<circle cx="103.3" cy="123.3" r="2.0" stroke="none"/>
<circle cx="105" cy="126.3" r="2.0" stroke="none"/>
<circle cx="108.6" cy="119.2" r="2.0" stroke="none"/>
<circle cx="107" cy="121.9" r="2.0" stroke="none"/>
<circle cx="103.9" cy="131.5" r="2.0" stroke="none"/>
<circle cx="107" cy="131.5" r="2.0" stroke="none"/>
<circle cx="102.9" cy="136.6" r="2.0" stroke="none"/>
<circle cx="106" cy="138.6" r="2.0" stroke="none"/>
<circle cx="111.1" cy="140.2" r="2.0" stroke="none"/>
<circle cx="113.5" cy="134.5" r="2.0" stroke="none"/>
<circle cx="117.6" cy="134.5" r="2.0" stroke="none"/>
<circle cx="119.7" cy="128.8" r="2.0" stroke="none"/>
<circle cx="120.3" cy="131.5" r="2.0" stroke="none"/>
<circle cx="125" cy="136.6" r="2.0" stroke="none"/>
<circle cx="130.5" cy="141.1" r="2.0" stroke="none"/>
<circle cx="134.6" cy="124.7" r="2.0" stroke="none"/>
<circle cx="134.6" cy="126.8" r="2.0" stroke="none"/>
<circle cx="146.9" cy="122.7" r="2.0" stroke="none"/>
<circle cx="148.9" cy="134.5" r="2.0" stroke="none"/>
<circle cx="149.3" cy="137.2" r="2.0" stroke="none"/>
<circle cx="153.6" cy="141.1" r="2.0" stroke="none"/>
<circle cx="155" cy="138.6" r="2.0" stroke="none"/>
<circle cx="167.3" cy="133.5" r="2.0" stroke="none"/>
<circle cx="170" cy="136.2" r="2.0" stroke="none"/>
<circle cx="166.7" cy="142.7" r="2.0" stroke="none"/>
<circle cx="174.4" cy="127.4" r="2.0" stroke="none"/>
<circle cx="191.2" cy="116.1" r="2.0" stroke="none"/>
<circle cx="193.3" cy="118.6" r="2.0" stroke="none"/>
<circle cx="192.4" cy="127.4" r="2.0" stroke="none"/>
<circle cx="194.9" cy="139" r="2.0" stroke="none"/>
<circle cx="205.8" cy="121.4" r="2.0" stroke="none"/>
<circle cx="210.8" cy="130.8" r="2.0" stroke="none"/>
<circle cx="213" cy="131.9" r="2.0" stroke="none"/>
<circle cx="221.8" cy="122.7" r="2.0" stroke="none"/>
<circle cx="225.5" cy="121.4" r="2.0" stroke="none"/>
<circle cx="221.8" cy="133.6" r="2.0" stroke="none"/>
<circle cx="239.3" cy="116.1" r="2.0" stroke="none"/>
<circle cx="240.8" cy="123.6" r="2.0" stroke="none"/>
<circle cx="252" cy="118.3" r="2.0" stroke="none"/>
<circle cx="255.7" cy="140.2" r="2.0" stroke="none"/>
<circle cx="260.5" cy="126.4" r="2.0" stroke="none"/>
<circle cx="264.4" cy="122.7" r="2.0" stroke="none"/>
<circle cx="266.2" cy="118.3" r="2.0" stroke="none"/>
<circle cx="267.1" cy="116.6" r="2.0" stroke="none"/>
<circle cx="271.5" cy="127.1" r="2.0" stroke="none"/>
<circle cx="271.5" cy="137.4" r="2.0" stroke="none"/>
<circle cx="278.7" cy="118.3" r="2.0" stroke="none"/>
<circle cx="284.2" cy="134.1" r="2.0" stroke="none"/>
<circle cx="306" cy="120.5" r="2.0" stroke="none"/>
<circle cx="307.6" cy="122" r="2.0" stroke="none"/>
<circle cx="308.7" cy="131.9" r="2.0" stroke="none"/>
<circle cx="312" cy="124.2" r="2.0" stroke="none"/>
</g>
<line x1="74.2" y1="96.2" x2="230.4" y2="96.2" stroke="#222" stroke-width="0.95"/>
<g fill="#9690FA" stroke="#9690FA">
<circle cx="99.10" cy="100.40" r="2.0" stroke="none"/>
<circle cx="99.10" cy="101.98" r="2.0" stroke="none"/>
<circle cx="99.10" cy="103.55" r="2.0" stroke="none"/>
<circle cx="99.10" cy="105.12" r="2.0" stroke="none"/>
<circle cx="99.10" cy="106.70" r="2.0" stroke="none"/>
<circle cx="105.50" cy="93.90" r="2.0" stroke="none"/>
<circle cx="105.50" cy="95.51" r="2.0" stroke="none"/>
<circle cx="105.50" cy="97.13" r="2.0" stroke="none"/>
<circle cx="105.50" cy="98.74" r="2.0" stroke="none"/>
<circle cx="105.50" cy="100.36" r="2.0" stroke="none"/>
<circle cx="105.50" cy="101.97" r="2.0" stroke="none"/>
<circle cx="105.50" cy="103.59" r="2.0" stroke="none"/>
<circle cx="105.50" cy="105.20" r="2.0" stroke="none"/>
<circle cx="111.80" cy="101.20" r="2.0" stroke="none"/>
<circle cx="111.80" cy="103.20" r="2.0" stroke="none"/>
<circle cx="111.80" cy="105.20" r="2.0" stroke="none"/>
<circle cx="118.10" cy="90.50" r="2.0" stroke="none"/>
<circle cx="118.10" cy="92.14" r="2.0" stroke="none"/>
<circle cx="118.10" cy="93.78" r="2.0" stroke="none"/>
<circle cx="118.10" cy="95.42" r="2.0" stroke="none"/>
<circle cx="118.10" cy="97.06" r="2.0" stroke="none"/>
<circle cx="118.10" cy="98.70" r="2.0" stroke="none"/>
<circle cx="124.50" cy="90.90" r="2.0" stroke="none"/>
<circle cx="124.50" cy="92.77" r="2.0" stroke="none"/>
<circle cx="124.50" cy="94.63" r="2.0" stroke="none"/>
<circle cx="124.50" cy="96.50" r="2.0" stroke="none"/>
<circle cx="73.9" cy="103.5" r="2.0" stroke="none"/>
<circle cx="80.4" cy="99.2" r="2.0" stroke="none"/>
<circle cx="80.4" cy="102.1" r="2.0" stroke="none"/>
<circle cx="86.6" cy="94.8" r="2.0" stroke="none"/>
<circle cx="86.6" cy="107.2" r="2.0" stroke="none"/>
<circle cx="92.8" cy="85.3" r="2.0" stroke="none"/>
<circle cx="92.8" cy="99.9" r="2.0" stroke="none"/>
<circle cx="92.8" cy="101.4" r="2.0" stroke="none"/>
<circle cx="92.8" cy="105.4" r="2.0" stroke="none"/>
<circle cx="99.1" cy="83.1" r="2.0" stroke="none"/>
<circle cx="99.1" cy="91.1" r="2.0" stroke="none"/>
<circle cx="99.1" cy="93.3" r="2.0" stroke="none"/>
<circle cx="105.5" cy="83.1" r="2.0" stroke="none"/>
<circle cx="105.5" cy="89" r="2.0" stroke="none"/>
<circle cx="111.8" cy="86" r="2.0" stroke="none"/>
<circle cx="111.8" cy="87.9" r="2.0" stroke="none"/>
<circle cx="118.1" cy="84.1" r="2.0" stroke="none"/>
<circle cx="118.1" cy="99.2" r="2.0" stroke="none"/>
<circle cx="118.1" cy="104" r="2.0" stroke="none"/>
<circle cx="124.5" cy="86" r="2.0" stroke="none"/>
<circle cx="124.5" cy="105" r="2.0" stroke="none"/>
<circle cx="130.8" cy="86.5" r="2.0" stroke="none"/>
<circle cx="130.8" cy="99.9" r="2.0" stroke="none"/>
<circle cx="136.9" cy="98.1" r="2.0" stroke="none"/>
<circle cx="149.8" cy="104" r="2.0" stroke="none"/>
<circle cx="155.9" cy="101.6" r="2.0" stroke="none"/>
<circle cx="162.5" cy="106.6" r="2.0" stroke="none"/>
<circle cx="231.8" cy="83" r="2.0" stroke="none"/>
</g>
<line x1="80.2" y1="62.5" x2="149.6" y2="62.5" stroke="#222" stroke-width="0.95"/>
<g fill="#E870F2" stroke="#E870F2">
<circle cx="80.2" cy="61.2" r="2.0" stroke="none"/>
<circle cx="80.2" cy="65.2" r="2.0" stroke="none"/>
<circle cx="80.2" cy="70" r="2.0" stroke="none"/>
<circle cx="86.4" cy="51.6" r="2.0" stroke="none"/>
<circle cx="86.4" cy="66.2" r="2.0" stroke="none"/>
<circle cx="92.9" cy="49.8" r="2.0" stroke="none"/>
<circle cx="92.9" cy="66.2" r="2.0" stroke="none"/>
<circle cx="92.9" cy="75.1" r="2.0" stroke="none"/>
<circle cx="99.2" cy="57.9" r="2.0" stroke="none"/>
<circle cx="99.2" cy="60.4" r="2.0" stroke="none"/>
<circle cx="99.2" cy="65.9" r="2.0" stroke="none"/>
<circle cx="99.2" cy="68.8" r="2.0" stroke="none"/>
<circle cx="99.2" cy="73.9" r="2.0" stroke="none"/>
<circle cx="99.2" cy="75.4" r="2.0" stroke="none"/>
<circle cx="105.5" cy="49.4" r="2.0" stroke="none"/>
<circle cx="105.5" cy="58.6" r="2.0" stroke="none"/>
<circle cx="105.5" cy="63.7" r="2.0" stroke="none"/>
<circle cx="105.5" cy="69.5" r="2.0" stroke="none"/>
<circle cx="111.9" cy="56" r="2.0" stroke="none"/>
<circle cx="111.9" cy="72.5" r="2.0" stroke="none"/>
<circle cx="111.9" cy="75.4" r="2.0" stroke="none"/>
<circle cx="118.2" cy="53.9" r="2.0" stroke="none"/>
<circle cx="118.2" cy="58.6" r="2.0" stroke="none"/>
<circle cx="118.2" cy="67.4" r="2.0" stroke="none"/>
<circle cx="118.2" cy="71" r="2.0" stroke="none"/>
<circle cx="118.2" cy="74.7" r="2.0" stroke="none"/>
<circle cx="124.3" cy="52.5" r="2.0" stroke="none"/>
<circle cx="124.3" cy="53.9" r="2.0" stroke="none"/>
<circle cx="124.3" cy="64.1" r="2.0" stroke="none"/>
<circle cx="124.3" cy="67.6" r="2.0" stroke="none"/>
<circle cx="124.3" cy="75.8" r="2.0" stroke="none"/>
<circle cx="130.6" cy="64.4" r="2.0" stroke="none"/>
<circle cx="130.6" cy="65.9" r="2.0" stroke="none"/>
<circle cx="130.6" cy="71" r="2.0" stroke="none"/>
<circle cx="130.6" cy="72.9" r="2.0" stroke="none"/>
<circle cx="137.2" cy="55" r="2.0" stroke="none"/>
<circle cx="137.2" cy="64.4" r="2.0" stroke="none"/>
<circle cx="137.2" cy="67.1" r="2.0" stroke="none"/>
<circle cx="143.4" cy="51.3" r="2.0" stroke="none"/>
<circle cx="143.4" cy="59.3" r="2.0" stroke="none"/>
<circle cx="149.6" cy="65.6" r="2.0" stroke="none"/>
</g>
<line x1="74.1" y1="29.3" x2="326.7" y2="29.3" stroke="#222" stroke-width="0.95"/>
<g fill="#F766CC" stroke="#F766CC">
<circle cx="74.10" cy="22.20" r="2.0" stroke="none"/>
<circle cx="74.10" cy="23.85" r="2.0" stroke="none"/>
<circle cx="74.10" cy="25.50" r="2.0" stroke="none"/>
<circle cx="74.10" cy="27.15" r="2.0" stroke="none"/>
<circle cx="74.10" cy="28.80" r="2.0" stroke="none"/>
<circle cx="74.10" cy="30.45" r="2.0" stroke="none"/>
<circle cx="74.10" cy="32.10" r="2.0" stroke="none"/>
<circle cx="74.10" cy="33.75" r="2.0" stroke="none"/>
<circle cx="74.10" cy="35.40" r="2.0" stroke="none"/>
<circle cx="74.10" cy="37.05" r="2.0" stroke="none"/>
<circle cx="74.10" cy="38.70" r="2.0" stroke="none"/>
<circle cx="74.10" cy="40.35" r="2.0" stroke="none"/>
<circle cx="74.10" cy="42.00" r="2.0" stroke="none"/>
<circle cx="80.20" cy="16.60" r="2.0" stroke="none"/>
<circle cx="80.20" cy="18.33" r="2.0" stroke="none"/>
<circle cx="80.20" cy="20.05" r="2.0" stroke="none"/>
<circle cx="80.20" cy="21.78" r="2.0" stroke="none"/>
<circle cx="80.20" cy="23.51" r="2.0" stroke="none"/>
<circle cx="80.20" cy="25.23" r="2.0" stroke="none"/>
<circle cx="80.20" cy="26.96" r="2.0" stroke="none"/>
<circle cx="80.20" cy="28.69" r="2.0" stroke="none"/>
<circle cx="80.20" cy="30.41" r="2.0" stroke="none"/>
<circle cx="80.20" cy="32.14" r="2.0" stroke="none"/>
<circle cx="80.20" cy="33.87" r="2.0" stroke="none"/>
<circle cx="80.20" cy="35.59" r="2.0" stroke="none"/>
<circle cx="80.20" cy="37.32" r="2.0" stroke="none"/>
<circle cx="80.20" cy="39.05" r="2.0" stroke="none"/>
<circle cx="80.20" cy="40.77" r="2.0" stroke="none"/>
<circle cx="80.20" cy="42.50" r="2.0" stroke="none"/>
<circle cx="86.30" cy="19.10" r="2.0" stroke="none"/>
<circle cx="86.30" cy="20.86" r="2.0" stroke="none"/>
<circle cx="86.30" cy="22.62" r="2.0" stroke="none"/>
<circle cx="86.30" cy="24.38" r="2.0" stroke="none"/>
<circle cx="86.30" cy="26.15" r="2.0" stroke="none"/>
<circle cx="86.30" cy="27.91" r="2.0" stroke="none"/>
<circle cx="86.30" cy="29.67" r="2.0" stroke="none"/>
<circle cx="86.30" cy="31.43" r="2.0" stroke="none"/>
<circle cx="86.30" cy="33.19" r="2.0" stroke="none"/>
<circle cx="86.30" cy="34.95" r="2.0" stroke="none"/>
<circle cx="86.30" cy="36.72" r="2.0" stroke="none"/>
<circle cx="86.30" cy="38.48" r="2.0" stroke="none"/>
<circle cx="86.30" cy="40.24" r="2.0" stroke="none"/>
<circle cx="86.30" cy="42.00" r="2.0" stroke="none"/>
<circle cx="92.60" cy="16.60" r="2.0" stroke="none"/>
<circle cx="92.60" cy="18.23" r="2.0" stroke="none"/>
<circle cx="92.60" cy="19.86" r="2.0" stroke="none"/>
<circle cx="92.60" cy="21.49" r="2.0" stroke="none"/>
<circle cx="92.60" cy="23.12" r="2.0" stroke="none"/>
<circle cx="92.60" cy="24.75" r="2.0" stroke="none"/>
<circle cx="92.60" cy="26.38" r="2.0" stroke="none"/>
<circle cx="92.60" cy="28.01" r="2.0" stroke="none"/>
<circle cx="92.60" cy="29.64" r="2.0" stroke="none"/>
<circle cx="92.60" cy="31.27" r="2.0" stroke="none"/>
<circle cx="92.60" cy="32.90" r="2.0" stroke="none"/>
<circle cx="99.00" cy="18.10" r="2.0" stroke="none"/>
<circle cx="99.00" cy="19.85" r="2.0" stroke="none"/>
<circle cx="99.00" cy="21.61" r="2.0" stroke="none"/>
<circle cx="99.00" cy="23.36" r="2.0" stroke="none"/>
<circle cx="99.00" cy="25.12" r="2.0" stroke="none"/>
<circle cx="99.00" cy="26.87" r="2.0" stroke="none"/>
<circle cx="99.00" cy="28.63" r="2.0" stroke="none"/>
<circle cx="99.00" cy="30.38" r="2.0" stroke="none"/>
<circle cx="99.00" cy="32.14" r="2.0" stroke="none"/>
<circle cx="99.00" cy="33.89" r="2.0" stroke="none"/>
<circle cx="99.00" cy="35.65" r="2.0" stroke="none"/>
<circle cx="99.00" cy="37.40" r="2.0" stroke="none"/>
<circle cx="105.60" cy="16.60" r="2.0" stroke="none"/>
<circle cx="105.60" cy="18.29" r="2.0" stroke="none"/>
<circle cx="105.60" cy="19.99" r="2.0" stroke="none"/>
<circle cx="105.60" cy="21.68" r="2.0" stroke="none"/>
<circle cx="105.60" cy="23.37" r="2.0" stroke="none"/>
<circle cx="105.60" cy="25.07" r="2.0" stroke="none"/>
<circle cx="105.60" cy="26.76" r="2.0" stroke="none"/>
<circle cx="105.60" cy="28.45" r="2.0" stroke="none"/>
<circle cx="105.60" cy="30.15" r="2.0" stroke="none"/>
<circle cx="105.60" cy="31.84" r="2.0" stroke="none"/>
<circle cx="105.60" cy="33.53" r="2.0" stroke="none"/>
<circle cx="105.60" cy="35.23" r="2.0" stroke="none"/>
<circle cx="105.60" cy="36.92" r="2.0" stroke="none"/>
<circle cx="105.60" cy="38.61" r="2.0" stroke="none"/>
<circle cx="105.60" cy="40.31" r="2.0" stroke="none"/>
<circle cx="105.60" cy="42.00" r="2.0" stroke="none"/>
<circle cx="111.70" cy="25.20" r="2.0" stroke="none"/>
<circle cx="111.70" cy="26.75" r="2.0" stroke="none"/>
<circle cx="111.70" cy="28.30" r="2.0" stroke="none"/>
<circle cx="111.70" cy="29.85" r="2.0" stroke="none"/>
<circle cx="111.70" cy="31.40" r="2.0" stroke="none"/>
<circle cx="117.80" cy="36.40" r="2.0" stroke="none"/>
<circle cx="117.80" cy="38.50" r="2.0" stroke="none"/>
<circle cx="124.80" cy="26.50" r="2.0" stroke="none"/>
<circle cx="124.80" cy="26.50" r="2.0" stroke="none"/>
<circle cx="74.1" cy="17.6" r="2.0" stroke="none"/>
<circle cx="111.7" cy="19.8" r="2.0" stroke="none"/>
<circle cx="111.7" cy="36.6" r="2.0" stroke="none"/>
<circle cx="117.8" cy="19.6" r="2.0" stroke="none"/>
<circle cx="117.8" cy="26.8" r="2.0" stroke="none"/>
<circle cx="123.9" cy="38.9" r="2.0" stroke="none"/>
<circle cx="124.8" cy="38.8" r="2.0" stroke="none"/>
<circle cx="131" cy="16.1" r="2.0" stroke="none"/>
<circle cx="131" cy="18.5" r="2.0" stroke="none"/>
<circle cx="131" cy="25.3" r="2.0" stroke="none"/>
<circle cx="131" cy="34.1" r="2.0" stroke="none"/>
<circle cx="131" cy="37.7" r="2.0" stroke="none"/>
<circle cx="137.2" cy="17.3" r="2.0" stroke="none"/>
<circle cx="137.2" cy="22.8" r="2.0" stroke="none"/>
<circle cx="137.2" cy="42.1" r="2.0" stroke="none"/>
<circle cx="143.4" cy="19.1" r="2.0" stroke="none"/>
<circle cx="149.9" cy="19.5" r="2.0" stroke="none"/>
<circle cx="149.9" cy="23.9" r="2.0" stroke="none"/>
<circle cx="149.9" cy="25.3" r="2.0" stroke="none"/>
<circle cx="156.2" cy="20.5" r="2.0" stroke="none"/>
<circle cx="156.2" cy="31.9" r="2.0" stroke="none"/>
<circle cx="156.2" cy="34" r="2.0" stroke="none"/>
<circle cx="156.2" cy="36.3" r="2.0" stroke="none"/>
<circle cx="162.3" cy="40.7" r="2.0" stroke="none"/>
<circle cx="174.7" cy="17" r="2.0" stroke="none"/>
<circle cx="193.7" cy="39.9" r="2.0" stroke="none"/>
<circle cx="225.5" cy="35.5" r="2.0" stroke="none"/>
<circle cx="257.2" cy="34.9" r="2.0" stroke="none"/>
<circle cx="276" cy="24.9" r="2.0" stroke="none"/>
<circle cx="326.7" cy="36.2" r="2.0" stroke="none"/>
<circle cx="326.7" cy="38.6" r="2.0" stroke="none"/>
</g>
<line x1="61.6" y1="329.9" x2="124.3" y2="329.9" stroke="#222" stroke-width="0.95" stroke-opacity="0.45"/>
<circle cx="84.2" cy="329.9" r="2.8" fill="#000"/>
<text transform="translate(212.5,330.15) scale(0.97,1.04)" font-size="8.7" fill="#111">N = 242</text>
<line x1="68" y1="296.6" x2="118.1" y2="296.6" stroke="#222" stroke-width="0.95" stroke-opacity="0.45"/>
<circle cx="81.9" cy="296.6" r="2.8" fill="#000"/>
<text transform="translate(212.5,296.85) scale(0.97,1.04)" font-size="8.7" fill="#111">N = 252</text>
<line x1="86.7" y1="263" x2="181.5" y2="263" stroke="#222" stroke-width="0.95" stroke-opacity="0.45"/>
<circle cx="128.5" cy="263" r="2.8" fill="#000"/>
<text transform="translate(212.5,263.25) scale(0.97,1.04)" font-size="8.7" fill="#111">N = 63</text>
<line x1="68" y1="229.6" x2="130.8" y2="229.6" stroke="#222" stroke-width="0.95" stroke-opacity="0.45"/>
<circle cx="86.3" cy="229.6" r="2.8" fill="#000"/>
<text transform="translate(212.5,229.85) scale(0.97,1.04)" font-size="8.7" fill="#111">N = 272</text>
<line x1="68" y1="196.5" x2="99.1" y2="196.5" stroke="#222" stroke-width="0.95" stroke-opacity="0.45"/>
<circle cx="84.5" cy="196.5" r="2.8" fill="#000"/>
<text transform="translate(212.5,196.75) scale(0.97,1.04)" font-size="8.7" fill="#111">N = 168</text>
<line x1="74" y1="162.9" x2="130.9" y2="162.9" stroke="#222" stroke-width="0.95" stroke-opacity="0.45"/>
<circle cx="90.9" cy="162.9" r="2.8" fill="#000"/>
<text transform="translate(212.5,163.15) scale(0.97,1.04)" font-size="8.7" fill="#111">N = 1076</text>
<line x1="74.7" y1="129.4" x2="311.5" y2="129.4" stroke="#222" stroke-width="0.95" stroke-opacity="0.45"/>
<circle cx="160.1" cy="129.4" r="2.8" fill="#000"/>
<text transform="translate(212.5,129.65) scale(0.97,1.04)" font-size="8.7" fill="#111">N = 79</text>
<line x1="74.2" y1="96.2" x2="230.4" y2="96.2" stroke="#222" stroke-width="0.95" stroke-opacity="0.45"/>
<circle cx="113.3" cy="96.2" r="2.8" fill="#000"/>
<text transform="translate(212.5,96.45) scale(0.97,1.04)" font-size="8.7" fill="#111">N = 60</text>
<line x1="80.2" y1="62.5" x2="149.6" y2="62.5" stroke="#222" stroke-width="0.95" stroke-opacity="0.45"/>
<circle cx="110.6" cy="62.5" r="2.8" fill="#000"/>
<text transform="translate(212.5,62.75) scale(0.97,1.04)" font-size="8.7" fill="#111">N = 52</text>
<line x1="74.1" y1="29.3" x2="326.7" y2="29.3" stroke="#222" stroke-width="0.95" stroke-opacity="0.45"/>
<circle cx="105.4" cy="29.3" r="2.8" fill="#000"/>
<text transform="translate(212.5,29.55) scale(0.97,1.04)" font-size="8.7" fill="#111">N = 169</text>
<rect x="48.5" y="9.5" width="290.90" height="339.60" fill="none" stroke="#7F7F7F" stroke-width="1"/>
<rect x="397.7" y="9.3" width="220.50" height="339.50" fill="none" stroke="#7F7F7F" stroke-width="1"/>
<g stroke="#333" stroke-width="0.95">
<line x1="45.80" y1="329.80" x2="48.5" y2="329.80"/>
<line x1="395.00" y1="331.10" x2="397.7" y2="331.10"/>
<line x1="45.80" y1="296.39" x2="48.5" y2="296.39"/>
<line x1="395.00" y1="300.58" x2="397.7" y2="300.58"/>
<line x1="45.80" y1="262.98" x2="48.5" y2="262.98"/>
<line x1="395.00" y1="270.06" x2="397.7" y2="270.06"/>
<line x1="45.80" y1="229.57" x2="48.5" y2="229.57"/>
<line x1="395.00" y1="239.54" x2="397.7" y2="239.54"/>
<line x1="45.80" y1="196.16" x2="48.5" y2="196.16"/>
<line x1="395.00" y1="209.02" x2="397.7" y2="209.02"/>
<line x1="45.80" y1="162.75" x2="48.5" y2="162.75"/>
<line x1="395.00" y1="178.50" x2="397.7" y2="178.50"/>
<line x1="45.80" y1="129.34" x2="48.5" y2="129.34"/>
<line x1="395.00" y1="147.98" x2="397.7" y2="147.98"/>
<line x1="45.80" y1="95.93" x2="48.5" y2="95.93"/>
<line x1="395.00" y1="117.46" x2="397.7" y2="117.46"/>
<line x1="45.80" y1="62.52" x2="48.5" y2="62.52"/>
<line x1="395.00" y1="86.94" x2="397.7" y2="86.94"/>
<line x1="45.80" y1="29.11" x2="48.5" y2="29.11"/>
<line x1="395.00" y1="56.42" x2="397.7" y2="56.42"/>
<line x1="86.40" y1="349.1" x2="86.40" y2="351.80"/>
<line x1="149.65" y1="349.1" x2="149.65" y2="351.80"/>
<line x1="212.90" y1="349.1" x2="212.90" y2="351.80"/>
<line x1="276.15" y1="349.1" x2="276.15" y2="351.80"/>
<line x1="339.40" y1="349.1" x2="339.40" y2="351.80"/>
<line x1="398.80" y1="348.8" x2="398.80" y2="351.50"/>
<line x1="450.20" y1="348.8" x2="450.20" y2="351.50"/>
<line x1="501.60" y1="348.8" x2="501.60" y2="351.50"/>
<line x1="553.00" y1="348.8" x2="553.00" y2="351.50"/>
<line x1="604.40" y1="348.8" x2="604.40" y2="351.50"/>
</g>
<g fill="#4D4D4D" stroke="#4D4D4D" stroke-width="0.08" font-size="7.8">
<text transform="translate(43.50,333.40) scale(0.97,1.04)" text-anchor="end">GBB_S1</text>
<text transform="translate(392.70,334.80) scale(0.97,1.04)" text-anchor="end">GBB_S1</text>
<text transform="translate(43.50,299.99) scale(0.97,1.04)" text-anchor="end">GBB_S2</text>
<text transform="translate(392.70,304.28) scale(0.97,1.04)" text-anchor="end">GBB_S2</text>
<text transform="translate(43.50,266.58) scale(0.97,1.04)" text-anchor="end">QU</text>
<text transform="translate(392.70,273.76) scale(0.97,1.04)" text-anchor="end">QU</text>
<text transform="translate(43.50,233.17) scale(0.97,1.04)" text-anchor="end">SLIM_S1</text>
<text transform="translate(392.70,243.24) scale(0.97,1.04)" text-anchor="end">SLIM_S1</text>
<text transform="translate(43.50,199.76) scale(0.97,1.04)" text-anchor="end">SLIM_S2</text>
<text transform="translate(392.70,212.72) scale(0.97,1.04)" text-anchor="end">SLIM_S2</text>
<text transform="translate(43.50,166.35) scale(0.97,1.04)" text-anchor="end">TKU</text>
<text transform="translate(392.70,182.20) scale(0.97,1.04)" text-anchor="end">TKU</text>
<text transform="translate(43.50,132.94) scale(0.97,1.04)" text-anchor="end">UG_S1</text>
<text transform="translate(392.70,151.68) scale(0.97,1.04)" text-anchor="end">UG_S1</text>
<text transform="translate(43.50,99.53) scale(0.97,1.04)" text-anchor="end">UG_S2</text>
<text transform="translate(392.70,121.16) scale(0.97,1.04)" text-anchor="end">UG_S2</text>
<text transform="translate(43.50,66.12) scale(0.97,1.04)" text-anchor="end">UG_S3</text>
<text transform="translate(392.70,90.64) scale(0.97,1.04)" text-anchor="end">UG_S3</text>
<text transform="translate(43.50,32.71) scale(0.97,1.04)" text-anchor="end">UNCG</text>
<text transform="translate(392.70,60.12) scale(0.97,1.04)" text-anchor="end">UNCG</text>
<text transform="translate(86.40,360.40) scale(0.97,1.04)" text-anchor="middle">20</text>
<text transform="translate(149.65,360.40) scale(0.97,1.04)" text-anchor="middle">30</text>
<text transform="translate(212.90,360.40) scale(0.97,1.04)" text-anchor="middle">40</text>
<text transform="translate(276.15,360.40) scale(0.97,1.04)" text-anchor="middle">50</text>
<text transform="translate(339.40,360.40) scale(0.97,1.04)" text-anchor="middle">60</text>
<text transform="translate(398.80,360.30) scale(0.97,1.04)" text-anchor="middle">-5.0</text>
<text transform="translate(450.20,360.30) scale(0.97,1.04)" text-anchor="middle">-2.5</text>
<text transform="translate(501.60,360.30) scale(0.97,1.04)" text-anchor="middle">0.0</text>
<text transform="translate(553.00,360.30) scale(0.97,1.04)" text-anchor="middle">2.5</text>
<text transform="translate(604.40,360.30) scale(0.97,1.04)" text-anchor="middle">5.0</text>
</g>
<g fill="#000" stroke="#000" stroke-width="0.05" font-size="9.6">
<text transform="translate(193.95,370.9) scale(0.97,1.04)" text-anchor="middle">Age</text>
<text transform="translate(507.95,370.9) scale(0.97,1.04)" text-anchor="middle">Z-score of creative performance</text>
<text transform="translate(8.0,179.3) rotate(-90) scale(0.97,1.04)" text-anchor="middle">Datasets</text>
</g>
<text transform="translate(2.0,10.4) scale(0.97,1.04)" font-size="13.2" fill="#000" stroke="#000" stroke-width="0.35">A</text>
<text transform="translate(360.5,10.4) scale(0.97,1.04)" font-size="13.2" fill="#000" stroke="#000" stroke-width="0.35">B</text>
<rect x="250.9" y="159.2" width="61.2" height="175.4" fill="#fff"/>
<text transform="translate(255.6,173.0) scale(0.97,1.04)" font-size="9.6" fill="#000">Datasets</text>
<circle cx="263.2" cy="186.60" r="1.8" fill="#EE6D6A"/>
<text transform="translate(275.9,189.35) scale(0.97,1.04)" font-size="7.8" fill="#000">GBB_S1</text>
<circle cx="263.2" cy="201.68" r="1.8" fill="#D4962A"/>
<text transform="translate(275.9,204.43) scale(0.97,1.04)" font-size="7.8" fill="#000">GBB_S2</text>
<circle cx="263.2" cy="216.76" r="1.8" fill="#A6AC2C"/>
<text transform="translate(275.9,219.51) scale(0.97,1.04)" font-size="7.8" fill="#000">QU</text>
<circle cx="263.2" cy="231.84" r="1.8" fill="#55C92A"/>
<text transform="translate(275.9,234.59) scale(0.97,1.04)" font-size="7.8" fill="#000">SLIM_S1</text>
<circle cx="263.2" cy="246.92" r="1.8" fill="#58D48A"/>
<text transform="translate(275.9,249.67) scale(0.97,1.04)" font-size="7.8" fill="#000">SLIM_S2</text>
<circle cx="263.2" cy="262.00" r="1.8" fill="#5CD4C8"/>
<text transform="translate(275.9,264.75) scale(0.97,1.04)" font-size="7.8" fill="#000">TKU</text>
<circle cx="263.2" cy="277.08" r="1.8" fill="#58BCF4"/>
<text transform="translate(275.9,279.83) scale(0.97,1.04)" font-size="7.8" fill="#000">UG_S1</text>
<circle cx="263.2" cy="292.16" r="1.8" fill="#9690FA"/>
<text transform="translate(275.9,294.91) scale(0.97,1.04)" font-size="7.8" fill="#000">UG_S2</text>
<circle cx="263.2" cy="307.24" r="1.8" fill="#E870F2"/>
<text transform="translate(275.9,309.99) scale(0.97,1.04)" font-size="7.8" fill="#000">UG_S3</text>
<circle cx="263.2" cy="322.32" r="1.8" fill="#F766CC"/>
<text transform="translate(275.9,325.07) scale(0.97,1.04)" font-size="7.8" fill="#000">UNCG</text>
<text transform="translate(632.4,104.9) scale(0.97,1.04)" font-size="9.6" fill="#000">Datasets</text>
<rect x="633.0" y="111.50" width="14.1" height="14.1" fill="#EE6D6A" stroke="#333" stroke-width="0.7"/>
<text transform="translate(652.5,121.29) scale(0.97,1.04)" font-size="7.8" fill="#000">GBB_S1</text>
<rect x="633.0" y="126.58" width="14.1" height="14.1" fill="#D4962A" stroke="#333" stroke-width="0.7"/>
<text transform="translate(652.5,136.37) scale(0.97,1.04)" font-size="7.8" fill="#000">GBB_S2</text>
<rect x="633.0" y="141.66" width="14.1" height="14.1" fill="#A6AC2C" stroke="#333" stroke-width="0.7"/>
<text transform="translate(652.5,151.45) scale(0.97,1.04)" font-size="7.8" fill="#000">QU</text>
<rect x="633.0" y="156.74" width="14.1" height="14.1" fill="#55C92A" stroke="#333" stroke-width="0.7"/>
<text transform="translate(652.5,166.53) scale(0.97,1.04)" font-size="7.8" fill="#000">SLIM_S1</text>
<rect x="633.0" y="171.82" width="14.1" height="14.1" fill="#58D48A" stroke="#333" stroke-width="0.7"/>
<text transform="translate(652.5,181.61) scale(0.97,1.04)" font-size="7.8" fill="#000">SLIM_S2</text>
<rect x="633.0" y="186.90" width="14.1" height="14.1" fill="#5CD4C8" stroke="#333" stroke-width="0.7"/>
<text transform="translate(652.5,196.69) scale(0.97,1.04)" font-size="7.8" fill="#000">TKU</text>
<rect x="633.0" y="201.98" width="14.1" height="14.1" fill="#58BCF4" stroke="#333" stroke-width="0.7"/>
<text transform="translate(652.5,211.77) scale(0.97,1.04)" font-size="7.8" fill="#000">UG_S1</text>
<rect x="633.0" y="217.06" width="14.1" height="14.1" fill="#9690FA" stroke="#333" stroke-width="0.7"/>
<text transform="translate(652.5,226.85) scale(0.97,1.04)" font-size="7.8" fill="#000">UG_S2</text>
<rect x="633.0" y="232.14" width="14.1" height="14.1" fill="#E870F2" stroke="#333" stroke-width="0.7"/>
<text transform="translate(652.5,241.93) scale(0.97,1.04)" font-size="7.8" fill="#000">UG_S3</text>
<rect x="633.0" y="247.22" width="14.1" height="14.1" fill="#F766CC" stroke="#333" stroke-width="0.7"/>
<text transform="translate(652.5,257.01) scale(0.97,1.04)" font-size="7.8" fill="#000">UNCG</text>
</svg></body></html>
